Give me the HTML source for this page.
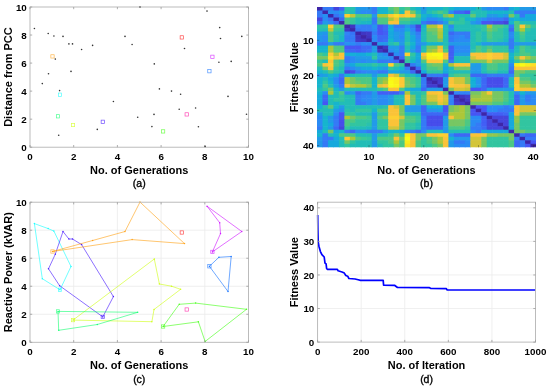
<!DOCTYPE html><html><head><meta charset="utf-8"><style>html,body{margin:0;padding:0;background:#fff;}svg{display:block;}</style></head><body>
<svg width="550" height="389" viewBox="0 0 550 389" font-family='"Liberation Sans", Arial, Helvetica, sans-serif'>
<rect width="550" height="389" fill="#fff"/>
<rect x="30" y="7" width="218.5" height="140.2" fill="none" stroke="#b4b4b4" stroke-width="0.9"/>
<line x1="30.00" y1="147.2" x2="30.00" y2="145.0" stroke="#9a9a9a" stroke-width="0.8"/>
<line x1="30.00" y1="7" x2="30.00" y2="9.2" stroke="#9a9a9a" stroke-width="0.8"/>
<line x1="73.70" y1="147.2" x2="73.70" y2="145.0" stroke="#9a9a9a" stroke-width="0.8"/>
<line x1="73.70" y1="7" x2="73.70" y2="9.2" stroke="#9a9a9a" stroke-width="0.8"/>
<line x1="117.40" y1="147.2" x2="117.40" y2="145.0" stroke="#9a9a9a" stroke-width="0.8"/>
<line x1="117.40" y1="7" x2="117.40" y2="9.2" stroke="#9a9a9a" stroke-width="0.8"/>
<line x1="161.10" y1="147.2" x2="161.10" y2="145.0" stroke="#9a9a9a" stroke-width="0.8"/>
<line x1="161.10" y1="7" x2="161.10" y2="9.2" stroke="#9a9a9a" stroke-width="0.8"/>
<line x1="204.80" y1="147.2" x2="204.80" y2="145.0" stroke="#9a9a9a" stroke-width="0.8"/>
<line x1="204.80" y1="7" x2="204.80" y2="9.2" stroke="#9a9a9a" stroke-width="0.8"/>
<line x1="248.50" y1="147.2" x2="248.50" y2="145.0" stroke="#9a9a9a" stroke-width="0.8"/>
<line x1="248.50" y1="7" x2="248.50" y2="9.2" stroke="#9a9a9a" stroke-width="0.8"/>
<line x1="30" y1="147.20" x2="32.2" y2="147.20" stroke="#9a9a9a" stroke-width="0.8"/>
<line x1="248.5" y1="147.20" x2="246.3" y2="147.20" stroke="#9a9a9a" stroke-width="0.8"/>
<line x1="30" y1="119.16" x2="32.2" y2="119.16" stroke="#9a9a9a" stroke-width="0.8"/>
<line x1="248.5" y1="119.16" x2="246.3" y2="119.16" stroke="#9a9a9a" stroke-width="0.8"/>
<line x1="30" y1="91.12" x2="32.2" y2="91.12" stroke="#9a9a9a" stroke-width="0.8"/>
<line x1="248.5" y1="91.12" x2="246.3" y2="91.12" stroke="#9a9a9a" stroke-width="0.8"/>
<line x1="30" y1="63.08" x2="32.2" y2="63.08" stroke="#9a9a9a" stroke-width="0.8"/>
<line x1="248.5" y1="63.08" x2="246.3" y2="63.08" stroke="#9a9a9a" stroke-width="0.8"/>
<line x1="30" y1="35.04" x2="32.2" y2="35.04" stroke="#9a9a9a" stroke-width="0.8"/>
<line x1="248.5" y1="35.04" x2="246.3" y2="35.04" stroke="#9a9a9a" stroke-width="0.8"/>
<line x1="30" y1="7.00" x2="32.2" y2="7.00" stroke="#9a9a9a" stroke-width="0.8"/>
<line x1="248.5" y1="7.00" x2="246.3" y2="7.00" stroke="#9a9a9a" stroke-width="0.8"/>
<text transform="translate(30.00 160.20) scale(1.0 1.0)" font-size="9.8" font-weight="bold" text-anchor="middle" fill="#000">0</text>
<text transform="translate(73.70 160.20) scale(1.0 1.0)" font-size="9.8" font-weight="bold" text-anchor="middle" fill="#000">2</text>
<text transform="translate(117.40 160.20) scale(1.0 1.0)" font-size="9.8" font-weight="bold" text-anchor="middle" fill="#000">4</text>
<text transform="translate(161.10 160.20) scale(1.0 1.0)" font-size="9.8" font-weight="bold" text-anchor="middle" fill="#000">6</text>
<text transform="translate(204.80 160.20) scale(1.0 1.0)" font-size="9.8" font-weight="bold" text-anchor="middle" fill="#000">8</text>
<text transform="translate(248.50 160.20) scale(1.0 1.0)" font-size="9.8" font-weight="bold" text-anchor="middle" fill="#000">10</text>
<text transform="translate(26.80 150.80) scale(1.0 1.0)" font-size="9.8" font-weight="bold" text-anchor="end" fill="#000">0</text>
<text transform="translate(26.80 122.76) scale(1.0 1.0)" font-size="9.8" font-weight="bold" text-anchor="end" fill="#000">2</text>
<text transform="translate(26.80 94.72) scale(1.0 1.0)" font-size="9.8" font-weight="bold" text-anchor="end" fill="#000">4</text>
<text transform="translate(26.80 66.68) scale(1.0 1.0)" font-size="9.8" font-weight="bold" text-anchor="end" fill="#000">6</text>
<text transform="translate(26.80 38.64) scale(1.0 1.0)" font-size="9.8" font-weight="bold" text-anchor="end" fill="#000">8</text>
<text transform="translate(26.80 10.60) scale(1.0 1.0)" font-size="9.8" font-weight="bold" text-anchor="end" fill="#000">10</text>
<circle cx="34.4" cy="28.5" r="0.8" fill="#333"/>
<circle cx="48.2" cy="33.5" r="0.8" fill="#333"/>
<circle cx="53.9" cy="36.0" r="0.8" fill="#333"/>
<circle cx="63.0" cy="36.4" r="0.8" fill="#333"/>
<circle cx="68.9" cy="43.9" r="0.8" fill="#333"/>
<circle cx="72.5" cy="43.9" r="0.8" fill="#333"/>
<circle cx="81.6" cy="49.5" r="0.8" fill="#333"/>
<circle cx="92.6" cy="45.4" r="0.8" fill="#333"/>
<circle cx="55.3" cy="59.1" r="0.8" fill="#333"/>
<circle cx="71.0" cy="71.4" r="0.8" fill="#333"/>
<circle cx="48.5" cy="73.7" r="0.8" fill="#333"/>
<circle cx="42.3" cy="83.6" r="0.8" fill="#333"/>
<circle cx="59.6" cy="90.6" r="0.8" fill="#333"/>
<circle cx="97.3" cy="129.4" r="0.8" fill="#333"/>
<circle cx="58.7" cy="135.2" r="0.8" fill="#333"/>
<circle cx="140.0" cy="7.0" r="0.8" fill="#333"/>
<circle cx="125.0" cy="36.4" r="0.8" fill="#333"/>
<circle cx="132.1" cy="44.5" r="0.8" fill="#333"/>
<circle cx="154.3" cy="63.9" r="0.8" fill="#333"/>
<circle cx="159.4" cy="88.9" r="0.8" fill="#333"/>
<circle cx="113.4" cy="101.5" r="0.8" fill="#333"/>
<circle cx="137.7" cy="117.2" r="0.8" fill="#333"/>
<circle cx="154.0" cy="114.4" r="0.8" fill="#333"/>
<circle cx="151.9" cy="126.6" r="0.8" fill="#333"/>
<circle cx="207.0" cy="11.1" r="0.8" fill="#333"/>
<circle cx="219.7" cy="27.6" r="0.8" fill="#333"/>
<circle cx="220.5" cy="38.5" r="0.8" fill="#333"/>
<circle cx="241.8" cy="36.4" r="0.8" fill="#333"/>
<circle cx="184.5" cy="48.5" r="0.8" fill="#333"/>
<circle cx="218.9" cy="62.2" r="0.8" fill="#333"/>
<circle cx="231.2" cy="61.4" r="0.8" fill="#333"/>
<circle cx="171.5" cy="91.1" r="0.8" fill="#333"/>
<circle cx="180.6" cy="94.2" r="0.8" fill="#333"/>
<circle cx="228.0" cy="96.4" r="0.8" fill="#333"/>
<circle cx="179.2" cy="109.2" r="0.8" fill="#333"/>
<circle cx="195.6" cy="108.0" r="0.8" fill="#333"/>
<circle cx="246.5" cy="114.2" r="0.8" fill="#333"/>
<circle cx="198.4" cy="126.7" r="0.8" fill="#333"/>
<circle cx="205.1" cy="146.4" r="0.8" fill="#333"/>
<rect x="50.85" y="54.75" width="3.3" height="3.3" fill="none" stroke="#ff9900" stroke-width="0.7" stroke-opacity="0.7"/>
<rect x="58.35" y="93.05" width="3.3" height="3.3" fill="none" stroke="#00ffff" stroke-width="0.7" stroke-opacity="0.7"/>
<rect x="56.35" y="114.65" width="3.3" height="3.3" fill="none" stroke="#00ff66" stroke-width="0.7" stroke-opacity="0.7"/>
<rect x="71.35" y="123.35" width="3.3" height="3.3" fill="none" stroke="#ccff00" stroke-width="0.7" stroke-opacity="0.7"/>
<rect x="101.15" y="120.15" width="3.3" height="3.3" fill="none" stroke="#3300ff" stroke-width="0.7" stroke-opacity="0.7"/>
<rect x="161.45" y="129.75" width="3.3" height="3.3" fill="none" stroke="#33ff00" stroke-width="0.7" stroke-opacity="0.7"/>
<rect x="180.15" y="35.75" width="3.3" height="3.3" fill="none" stroke="#ff0000" stroke-width="0.7" stroke-opacity="0.7"/>
<rect x="210.75" y="55.15" width="3.3" height="3.3" fill="none" stroke="#cc00ff" stroke-width="0.7" stroke-opacity="0.7"/>
<rect x="207.75" y="69.55" width="3.3" height="3.3" fill="none" stroke="#0066ff" stroke-width="0.7" stroke-opacity="0.7"/>
<rect x="185.05" y="112.75" width="3.3" height="3.3" fill="none" stroke="#ff0099" stroke-width="0.7" stroke-opacity="0.7"/>
<text transform="translate(139.25 174.00) scale(1.0 1.05)" font-size="11.0" font-weight="bold" text-anchor="middle" fill="#000">No. of Generations</text>
<text transform="translate(139.25 186.80) scale(1.0 1.0)" font-size="10.5" font-weight="normal" text-anchor="middle" fill="#000" stroke="#000" stroke-width="0.35">(a)</text>
<text transform="translate(11.60 77.10) rotate(-90) scale(1.0 1.05)" font-size="11.0" font-weight="bold" text-anchor="middle" fill="#000">Distance from PCC</text>
<line x1="73.70" y1="202.2" x2="73.70" y2="342.3" stroke="#ebebeb" stroke-width="0.8"/>
<line x1="117.40" y1="202.2" x2="117.40" y2="342.3" stroke="#ebebeb" stroke-width="0.8"/>
<line x1="161.10" y1="202.2" x2="161.10" y2="342.3" stroke="#ebebeb" stroke-width="0.8"/>
<line x1="204.80" y1="202.2" x2="204.80" y2="342.3" stroke="#ebebeb" stroke-width="0.8"/>
<line x1="30" y1="314.28" x2="248.5" y2="314.28" stroke="#ebebeb" stroke-width="0.8"/>
<line x1="30" y1="286.26" x2="248.5" y2="286.26" stroke="#ebebeb" stroke-width="0.8"/>
<line x1="30" y1="258.24" x2="248.5" y2="258.24" stroke="#ebebeb" stroke-width="0.8"/>
<line x1="30" y1="230.22" x2="248.5" y2="230.22" stroke="#ebebeb" stroke-width="0.8"/>
<polygon points="34.4,223.6 48.2,228.6 53.9,231.1 71.0,266.5 60.0,289.8 42.3,278.7" fill="none" stroke="#00ffff" stroke-width="0.75" stroke-opacity="0.75" stroke-linejoin="round"/>
<circle cx="34.4" cy="223.6" r="0.75" fill="#00ffff" fill-opacity="0.8"/>
<circle cx="48.2" cy="228.6" r="0.75" fill="#00ffff" fill-opacity="0.8"/>
<circle cx="53.9" cy="231.1" r="0.75" fill="#00ffff" fill-opacity="0.8"/>
<circle cx="71.0" cy="266.5" r="0.75" fill="#00ffff" fill-opacity="0.8"/>
<circle cx="60.0" cy="289.8" r="0.75" fill="#00ffff" fill-opacity="0.8"/>
<circle cx="42.3" cy="278.7" r="0.75" fill="#00ffff" fill-opacity="0.8"/>
<polygon points="63.0,231.5 55.3,254.2 48.5,268.8 59.6,285.7 102.8,316.9 113.4,296.6 81.6,244.6 72.5,239.0 68.9,239.0" fill="none" stroke="#3300ff" stroke-width="0.75" stroke-opacity="0.75" stroke-linejoin="round"/>
<circle cx="63.0" cy="231.5" r="0.75" fill="#3300ff" fill-opacity="0.8"/>
<circle cx="55.3" cy="254.2" r="0.75" fill="#3300ff" fill-opacity="0.8"/>
<circle cx="48.5" cy="268.8" r="0.75" fill="#3300ff" fill-opacity="0.8"/>
<circle cx="59.6" cy="285.7" r="0.75" fill="#3300ff" fill-opacity="0.8"/>
<circle cx="102.8" cy="316.9" r="0.75" fill="#3300ff" fill-opacity="0.8"/>
<circle cx="113.4" cy="296.6" r="0.75" fill="#3300ff" fill-opacity="0.8"/>
<circle cx="81.6" cy="244.6" r="0.75" fill="#3300ff" fill-opacity="0.8"/>
<circle cx="72.5" cy="239.0" r="0.75" fill="#3300ff" fill-opacity="0.8"/>
<circle cx="68.9" cy="239.0" r="0.75" fill="#3300ff" fill-opacity="0.8"/>
<polygon points="52.5,251.5 92.6,240.5 125.0,231.5 140.0,202.1 184.5,243.6 132.1,239.6" fill="none" stroke="#ff9900" stroke-width="0.75" stroke-opacity="0.75" stroke-linejoin="round"/>
<circle cx="52.5" cy="251.5" r="0.75" fill="#ff9900" fill-opacity="0.8"/>
<circle cx="92.6" cy="240.5" r="0.75" fill="#ff9900" fill-opacity="0.8"/>
<circle cx="125.0" cy="231.5" r="0.75" fill="#ff9900" fill-opacity="0.8"/>
<circle cx="140.0" cy="202.1" r="0.75" fill="#ff9900" fill-opacity="0.8"/>
<circle cx="184.5" cy="243.6" r="0.75" fill="#ff9900" fill-opacity="0.8"/>
<circle cx="132.1" cy="239.6" r="0.75" fill="#ff9900" fill-opacity="0.8"/>
<polygon points="73.0,320.1 151.9,321.7 154.0,309.5 180.6,289.3 171.5,286.2 159.4,284.0 154.3,259.0" fill="none" stroke="#ccff00" stroke-width="0.75" stroke-opacity="0.75" stroke-linejoin="round"/>
<circle cx="73.0" cy="320.1" r="0.75" fill="#ccff00" fill-opacity="0.8"/>
<circle cx="151.9" cy="321.7" r="0.75" fill="#ccff00" fill-opacity="0.8"/>
<circle cx="154.0" cy="309.5" r="0.75" fill="#ccff00" fill-opacity="0.8"/>
<circle cx="180.6" cy="289.3" r="0.75" fill="#ccff00" fill-opacity="0.8"/>
<circle cx="171.5" cy="286.2" r="0.75" fill="#ccff00" fill-opacity="0.8"/>
<circle cx="159.4" cy="284.0" r="0.75" fill="#ccff00" fill-opacity="0.8"/>
<circle cx="154.3" cy="259.0" r="0.75" fill="#ccff00" fill-opacity="0.8"/>
<polygon points="58.0,311.4 137.7,312.3 97.3,324.5 58.7,330.3" fill="none" stroke="#00ff66" stroke-width="0.75" stroke-opacity="0.75" stroke-linejoin="round"/>
<circle cx="58.0" cy="311.4" r="0.75" fill="#00ff66" fill-opacity="0.8"/>
<circle cx="137.7" cy="312.3" r="0.75" fill="#00ff66" fill-opacity="0.8"/>
<circle cx="97.3" cy="324.5" r="0.75" fill="#00ff66" fill-opacity="0.8"/>
<circle cx="58.7" cy="330.3" r="0.75" fill="#00ff66" fill-opacity="0.8"/>
<polygon points="163.1,326.5 179.2,304.3 195.6,303.1 246.5,309.3 205.1,341.5 198.4,321.8" fill="none" stroke="#33ff00" stroke-width="0.75" stroke-opacity="0.75" stroke-linejoin="round"/>
<circle cx="163.1" cy="326.5" r="0.75" fill="#33ff00" fill-opacity="0.8"/>
<circle cx="179.2" cy="304.3" r="0.75" fill="#33ff00" fill-opacity="0.8"/>
<circle cx="195.6" cy="303.1" r="0.75" fill="#33ff00" fill-opacity="0.8"/>
<circle cx="246.5" cy="309.3" r="0.75" fill="#33ff00" fill-opacity="0.8"/>
<circle cx="205.1" cy="341.5" r="0.75" fill="#33ff00" fill-opacity="0.8"/>
<circle cx="198.4" cy="321.8" r="0.75" fill="#33ff00" fill-opacity="0.8"/>
<polygon points="207.0,206.2 219.7,222.7 220.5,233.6 212.4,251.9 241.8,231.5" fill="none" stroke="#cc00ff" stroke-width="0.75" stroke-opacity="0.75" stroke-linejoin="round"/>
<circle cx="207.0" cy="206.2" r="0.75" fill="#cc00ff" fill-opacity="0.8"/>
<circle cx="219.7" cy="222.7" r="0.75" fill="#cc00ff" fill-opacity="0.8"/>
<circle cx="220.5" cy="233.6" r="0.75" fill="#cc00ff" fill-opacity="0.8"/>
<circle cx="212.4" cy="251.9" r="0.75" fill="#cc00ff" fill-opacity="0.8"/>
<circle cx="241.8" cy="231.5" r="0.75" fill="#cc00ff" fill-opacity="0.8"/>
<polygon points="209.4,266.3 218.9,257.3 231.2,256.5 228.0,291.5" fill="none" stroke="#0066ff" stroke-width="0.75" stroke-opacity="0.75" stroke-linejoin="round"/>
<circle cx="209.4" cy="266.3" r="0.75" fill="#0066ff" fill-opacity="0.8"/>
<circle cx="218.9" cy="257.3" r="0.75" fill="#0066ff" fill-opacity="0.8"/>
<circle cx="231.2" cy="256.5" r="0.75" fill="#0066ff" fill-opacity="0.8"/>
<circle cx="228.0" cy="291.5" r="0.75" fill="#0066ff" fill-opacity="0.8"/>
<rect x="50.85" y="249.85" width="3.3" height="3.3" fill="none" stroke="#ff9900" stroke-width="0.7" stroke-opacity="0.7"/>
<rect x="58.35" y="288.15" width="3.3" height="3.3" fill="none" stroke="#00ffff" stroke-width="0.7" stroke-opacity="0.7"/>
<rect x="56.35" y="309.75" width="3.3" height="3.3" fill="none" stroke="#00ff66" stroke-width="0.7" stroke-opacity="0.7"/>
<rect x="71.35" y="318.45" width="3.3" height="3.3" fill="none" stroke="#ccff00" stroke-width="0.7" stroke-opacity="0.7"/>
<rect x="101.15" y="315.25" width="3.3" height="3.3" fill="none" stroke="#3300ff" stroke-width="0.7" stroke-opacity="0.7"/>
<rect x="161.45" y="324.85" width="3.3" height="3.3" fill="none" stroke="#33ff00" stroke-width="0.7" stroke-opacity="0.7"/>
<rect x="180.15" y="230.85" width="3.3" height="3.3" fill="none" stroke="#ff0000" stroke-width="0.7" stroke-opacity="0.7"/>
<rect x="210.75" y="250.25" width="3.3" height="3.3" fill="none" stroke="#cc00ff" stroke-width="0.7" stroke-opacity="0.7"/>
<rect x="207.75" y="264.65" width="3.3" height="3.3" fill="none" stroke="#0066ff" stroke-width="0.7" stroke-opacity="0.7"/>
<rect x="185.05" y="307.85" width="3.3" height="3.3" fill="none" stroke="#ff0099" stroke-width="0.7" stroke-opacity="0.7"/>
<rect x="30" y="202.2" width="218.5" height="140.10000000000002" fill="none" stroke="#b4b4b4" stroke-width="0.9"/>
<line x1="30.00" y1="342.3" x2="30.00" y2="340.1" stroke="#9a9a9a" stroke-width="0.8"/>
<line x1="30.00" y1="202.2" x2="30.00" y2="204.39999999999998" stroke="#9a9a9a" stroke-width="0.8"/>
<line x1="73.70" y1="342.3" x2="73.70" y2="340.1" stroke="#9a9a9a" stroke-width="0.8"/>
<line x1="73.70" y1="202.2" x2="73.70" y2="204.39999999999998" stroke="#9a9a9a" stroke-width="0.8"/>
<line x1="117.40" y1="342.3" x2="117.40" y2="340.1" stroke="#9a9a9a" stroke-width="0.8"/>
<line x1="117.40" y1="202.2" x2="117.40" y2="204.39999999999998" stroke="#9a9a9a" stroke-width="0.8"/>
<line x1="161.10" y1="342.3" x2="161.10" y2="340.1" stroke="#9a9a9a" stroke-width="0.8"/>
<line x1="161.10" y1="202.2" x2="161.10" y2="204.39999999999998" stroke="#9a9a9a" stroke-width="0.8"/>
<line x1="204.80" y1="342.3" x2="204.80" y2="340.1" stroke="#9a9a9a" stroke-width="0.8"/>
<line x1="204.80" y1="202.2" x2="204.80" y2="204.39999999999998" stroke="#9a9a9a" stroke-width="0.8"/>
<line x1="248.50" y1="342.3" x2="248.50" y2="340.1" stroke="#9a9a9a" stroke-width="0.8"/>
<line x1="248.50" y1="202.2" x2="248.50" y2="204.39999999999998" stroke="#9a9a9a" stroke-width="0.8"/>
<line x1="30" y1="342.30" x2="32.2" y2="342.30" stroke="#9a9a9a" stroke-width="0.8"/>
<line x1="248.5" y1="342.30" x2="246.3" y2="342.30" stroke="#9a9a9a" stroke-width="0.8"/>
<line x1="30" y1="314.28" x2="32.2" y2="314.28" stroke="#9a9a9a" stroke-width="0.8"/>
<line x1="248.5" y1="314.28" x2="246.3" y2="314.28" stroke="#9a9a9a" stroke-width="0.8"/>
<line x1="30" y1="286.26" x2="32.2" y2="286.26" stroke="#9a9a9a" stroke-width="0.8"/>
<line x1="248.5" y1="286.26" x2="246.3" y2="286.26" stroke="#9a9a9a" stroke-width="0.8"/>
<line x1="30" y1="258.24" x2="32.2" y2="258.24" stroke="#9a9a9a" stroke-width="0.8"/>
<line x1="248.5" y1="258.24" x2="246.3" y2="258.24" stroke="#9a9a9a" stroke-width="0.8"/>
<line x1="30" y1="230.22" x2="32.2" y2="230.22" stroke="#9a9a9a" stroke-width="0.8"/>
<line x1="248.5" y1="230.22" x2="246.3" y2="230.22" stroke="#9a9a9a" stroke-width="0.8"/>
<line x1="30" y1="202.20" x2="32.2" y2="202.20" stroke="#9a9a9a" stroke-width="0.8"/>
<line x1="248.5" y1="202.20" x2="246.3" y2="202.20" stroke="#9a9a9a" stroke-width="0.8"/>
<text transform="translate(30.00 355.30) scale(1.0 1.0)" font-size="9.8" font-weight="bold" text-anchor="middle" fill="#000">0</text>
<text transform="translate(73.70 355.30) scale(1.0 1.0)" font-size="9.8" font-weight="bold" text-anchor="middle" fill="#000">2</text>
<text transform="translate(117.40 355.30) scale(1.0 1.0)" font-size="9.8" font-weight="bold" text-anchor="middle" fill="#000">4</text>
<text transform="translate(161.10 355.30) scale(1.0 1.0)" font-size="9.8" font-weight="bold" text-anchor="middle" fill="#000">6</text>
<text transform="translate(204.80 355.30) scale(1.0 1.0)" font-size="9.8" font-weight="bold" text-anchor="middle" fill="#000">8</text>
<text transform="translate(248.50 355.30) scale(1.0 1.0)" font-size="9.8" font-weight="bold" text-anchor="middle" fill="#000">10</text>
<text transform="translate(26.80 345.90) scale(1.0 1.0)" font-size="9.8" font-weight="bold" text-anchor="end" fill="#000">0</text>
<text transform="translate(26.80 317.88) scale(1.0 1.0)" font-size="9.8" font-weight="bold" text-anchor="end" fill="#000">2</text>
<text transform="translate(26.80 289.86) scale(1.0 1.0)" font-size="9.8" font-weight="bold" text-anchor="end" fill="#000">4</text>
<text transform="translate(26.80 261.84) scale(1.0 1.0)" font-size="9.8" font-weight="bold" text-anchor="end" fill="#000">6</text>
<text transform="translate(26.80 233.82) scale(1.0 1.0)" font-size="9.8" font-weight="bold" text-anchor="end" fill="#000">8</text>
<text transform="translate(26.80 205.80) scale(1.0 1.0)" font-size="9.8" font-weight="bold" text-anchor="end" fill="#000">10</text>
<text transform="translate(139.25 369.10) scale(1.0 1.05)" font-size="11.0" font-weight="bold" text-anchor="middle" fill="#000">No. of Generations</text>
<text transform="translate(139.25 382.50) scale(1.0 1.0)" font-size="10.5" font-weight="normal" text-anchor="middle" fill="#000" stroke="#000" stroke-width="0.35">(c)</text>
<text transform="translate(11.60 272.25) rotate(-90) scale(1.0 1.05)" font-size="11.0" font-weight="bold" text-anchor="middle" fill="#000">Reactive Power (kVAR)</text>
<defs><filter id="hb" x="-2%" y="-2%" width="104%" height="104%"><feGaussianBlur stdDeviation="0.35"/></filter></defs>
<g filter="url(#hb)">
<rect x="317.00" y="7.00" width="6.07" height="4.11" fill="#3e26a8"/>
<rect x="322.48" y="7.00" width="6.07" height="4.11" fill="#347af6"/>
<rect x="327.95" y="7.00" width="6.07" height="4.11" fill="#347af6"/>
<rect x="333.43" y="7.00" width="6.07" height="4.11" fill="#4545dd"/>
<rect x="338.90" y="7.00" width="6.07" height="4.11" fill="#3f63f5"/>
<rect x="344.38" y="7.00" width="6.07" height="4.11" fill="#2ec3a6"/>
<rect x="349.85" y="7.00" width="6.07" height="4.11" fill="#28bfb1"/>
<rect x="355.32" y="7.00" width="6.07" height="4.11" fill="#1f9ee5"/>
<rect x="360.80" y="7.00" width="6.07" height="4.11" fill="#2396eb"/>
<rect x="366.27" y="7.00" width="6.07" height="4.11" fill="#2396eb"/>
<rect x="371.75" y="7.00" width="6.07" height="4.11" fill="#347af6"/>
<rect x="377.23" y="7.00" width="6.07" height="4.11" fill="#17b5cd"/>
<rect x="382.70" y="7.00" width="6.07" height="4.11" fill="#17b5cd"/>
<rect x="388.18" y="7.00" width="6.07" height="4.11" fill="#4ec884"/>
<rect x="393.65" y="7.00" width="6.07" height="4.11" fill="#77c763"/>
<rect x="399.12" y="7.00" width="6.07" height="4.11" fill="#31c5a0"/>
<rect x="404.60" y="7.00" width="6.07" height="4.11" fill="#4ec884"/>
<rect x="410.07" y="7.00" width="6.07" height="4.11" fill="#24bdb7"/>
<rect x="415.55" y="7.00" width="6.07" height="4.11" fill="#17b5cd"/>
<rect x="421.02" y="7.00" width="6.07" height="4.11" fill="#219ae8"/>
<rect x="426.50" y="7.00" width="6.07" height="4.11" fill="#17b5cd"/>
<rect x="431.98" y="7.00" width="6.07" height="4.11" fill="#17b5cd"/>
<rect x="437.45" y="7.00" width="6.07" height="4.11" fill="#17b5cd"/>
<rect x="442.93" y="7.00" width="6.07" height="4.11" fill="#24bdb7"/>
<rect x="448.40" y="7.00" width="6.07" height="4.11" fill="#17b5cd"/>
<rect x="453.88" y="7.00" width="6.07" height="4.11" fill="#17a9dd"/>
<rect x="459.35" y="7.00" width="6.07" height="4.11" fill="#17a9dd"/>
<rect x="464.82" y="7.00" width="6.07" height="4.11" fill="#17a9dd"/>
<rect x="470.30" y="7.00" width="6.07" height="4.11" fill="#12b0d7"/>
<rect x="475.77" y="7.00" width="6.07" height="4.11" fill="#24bdb7"/>
<rect x="481.25" y="7.00" width="6.07" height="4.11" fill="#219ae8"/>
<rect x="486.73" y="7.00" width="6.07" height="4.11" fill="#2b8bf4"/>
<rect x="492.20" y="7.00" width="6.07" height="4.11" fill="#2b8bf4"/>
<rect x="497.67" y="7.00" width="6.07" height="4.11" fill="#2b8bf4"/>
<rect x="503.15" y="7.00" width="6.07" height="4.11" fill="#347af6"/>
<rect x="508.62" y="7.00" width="6.07" height="4.11" fill="#17a9dd"/>
<rect x="514.10" y="7.00" width="6.07" height="4.11" fill="#17b5cd"/>
<rect x="519.58" y="7.00" width="6.07" height="4.11" fill="#219ae8"/>
<rect x="525.05" y="7.00" width="6.07" height="4.11" fill="#219ae8"/>
<rect x="530.52" y="7.00" width="5.47" height="4.11" fill="#219ae8"/>
<rect x="317.00" y="10.51" width="6.07" height="4.11" fill="#347af6"/>
<rect x="322.48" y="10.51" width="6.07" height="4.11" fill="#3e26a8"/>
<rect x="327.95" y="10.51" width="6.07" height="4.11" fill="#288ff1"/>
<rect x="333.43" y="10.51" width="6.07" height="4.11" fill="#2b8bf4"/>
<rect x="338.90" y="10.51" width="6.07" height="4.11" fill="#219ae8"/>
<rect x="344.38" y="10.51" width="6.07" height="4.11" fill="#31c5a0"/>
<rect x="349.85" y="10.51" width="6.07" height="4.11" fill="#24bdb7"/>
<rect x="355.32" y="10.51" width="6.07" height="4.11" fill="#2396eb"/>
<rect x="360.80" y="10.51" width="6.07" height="4.11" fill="#2b8bf4"/>
<rect x="366.27" y="10.51" width="6.07" height="4.11" fill="#2b8bf4"/>
<rect x="371.75" y="10.51" width="6.07" height="4.11" fill="#347af6"/>
<rect x="377.23" y="10.51" width="6.07" height="4.11" fill="#17b5cd"/>
<rect x="382.70" y="10.51" width="6.07" height="4.11" fill="#17b5cd"/>
<rect x="388.18" y="10.51" width="6.07" height="4.11" fill="#31c5a0"/>
<rect x="393.65" y="10.51" width="6.07" height="4.11" fill="#77c763"/>
<rect x="399.12" y="10.51" width="6.07" height="4.11" fill="#24bdb7"/>
<rect x="404.60" y="10.51" width="6.07" height="4.11" fill="#fac338"/>
<rect x="410.07" y="10.51" width="6.07" height="4.11" fill="#77c763"/>
<rect x="415.55" y="10.51" width="6.07" height="4.11" fill="#24bdb7"/>
<rect x="421.02" y="10.51" width="6.07" height="4.11" fill="#1ca1e2"/>
<rect x="426.50" y="10.51" width="6.07" height="4.11" fill="#24bdb7"/>
<rect x="431.98" y="10.51" width="6.07" height="4.11" fill="#31c5a0"/>
<rect x="437.45" y="10.51" width="6.07" height="4.11" fill="#4ec884"/>
<rect x="442.93" y="10.51" width="6.07" height="4.11" fill="#31c5a0"/>
<rect x="448.40" y="10.51" width="6.07" height="4.11" fill="#2b8bf4"/>
<rect x="453.88" y="10.51" width="6.07" height="4.11" fill="#3d67f5"/>
<rect x="459.35" y="10.51" width="6.07" height="4.11" fill="#3d67f5"/>
<rect x="464.82" y="10.51" width="6.07" height="4.11" fill="#4655f4"/>
<rect x="470.30" y="10.51" width="6.07" height="4.11" fill="#2bc1ac"/>
<rect x="475.77" y="10.51" width="6.07" height="4.11" fill="#24bdb7"/>
<rect x="481.25" y="10.51" width="6.07" height="4.11" fill="#24bdb7"/>
<rect x="486.73" y="10.51" width="6.07" height="4.11" fill="#17b5cd"/>
<rect x="492.20" y="10.51" width="6.07" height="4.11" fill="#17b5cd"/>
<rect x="497.67" y="10.51" width="6.07" height="4.11" fill="#17b5cd"/>
<rect x="503.15" y="10.51" width="6.07" height="4.11" fill="#17b5cd"/>
<rect x="508.62" y="10.51" width="6.07" height="4.11" fill="#24bdb7"/>
<rect x="514.10" y="10.51" width="6.07" height="4.11" fill="#347af6"/>
<rect x="519.58" y="10.51" width="6.07" height="4.11" fill="#347af6"/>
<rect x="525.05" y="10.51" width="6.07" height="4.11" fill="#347af6"/>
<rect x="530.52" y="10.51" width="5.47" height="4.11" fill="#347af6"/>
<rect x="317.00" y="14.02" width="6.07" height="4.11" fill="#347af6"/>
<rect x="322.48" y="14.02" width="6.07" height="4.11" fill="#288ff1"/>
<rect x="327.95" y="14.02" width="6.07" height="4.11" fill="#3e26a8"/>
<rect x="333.43" y="14.02" width="6.07" height="4.11" fill="#3675f6"/>
<rect x="338.90" y="14.02" width="6.07" height="4.11" fill="#2b8bf4"/>
<rect x="344.38" y="14.02" width="6.07" height="4.11" fill="#fdcf31"/>
<rect x="349.85" y="14.02" width="6.07" height="4.11" fill="#c0c639"/>
<rect x="355.32" y="14.02" width="6.07" height="4.11" fill="#4ec884"/>
<rect x="360.80" y="14.02" width="6.07" height="4.11" fill="#4ec884"/>
<rect x="366.27" y="14.02" width="6.07" height="4.11" fill="#4ec884"/>
<rect x="371.75" y="14.02" width="6.07" height="4.11" fill="#219ae8"/>
<rect x="377.23" y="14.02" width="6.07" height="4.11" fill="#adc739"/>
<rect x="382.70" y="14.02" width="6.07" height="4.11" fill="#adc739"/>
<rect x="388.18" y="14.02" width="6.07" height="4.11" fill="#fec835"/>
<rect x="393.65" y="14.02" width="6.07" height="4.11" fill="#fcde27"/>
<rect x="399.12" y="14.02" width="6.07" height="4.11" fill="#fac338"/>
<rect x="404.60" y="14.02" width="6.07" height="4.11" fill="#fdcf31"/>
<rect x="410.07" y="14.02" width="6.07" height="4.11" fill="#fac338"/>
<rect x="415.55" y="14.02" width="6.07" height="4.11" fill="#4ec884"/>
<rect x="421.02" y="14.02" width="6.07" height="4.11" fill="#17b5cd"/>
<rect x="426.50" y="14.02" width="6.07" height="4.11" fill="#17a9dd"/>
<rect x="431.98" y="14.02" width="6.07" height="4.11" fill="#17b5cd"/>
<rect x="437.45" y="14.02" width="6.07" height="4.11" fill="#24bdb7"/>
<rect x="442.93" y="14.02" width="6.07" height="4.11" fill="#77c763"/>
<rect x="448.40" y="14.02" width="6.07" height="4.11" fill="#adc739"/>
<rect x="453.88" y="14.02" width="6.07" height="4.11" fill="#24bdb7"/>
<rect x="459.35" y="14.02" width="6.07" height="4.11" fill="#24bdb7"/>
<rect x="464.82" y="14.02" width="6.07" height="4.11" fill="#24bdb7"/>
<rect x="470.30" y="14.02" width="6.07" height="4.11" fill="#63c874"/>
<rect x="475.77" y="14.02" width="6.07" height="4.11" fill="#24bdb7"/>
<rect x="481.25" y="14.02" width="6.07" height="4.11" fill="#24bdb7"/>
<rect x="486.73" y="14.02" width="6.07" height="4.11" fill="#219ae8"/>
<rect x="492.20" y="14.02" width="6.07" height="4.11" fill="#219ae8"/>
<rect x="497.67" y="14.02" width="6.07" height="4.11" fill="#17a9dd"/>
<rect x="503.15" y="14.02" width="6.07" height="4.11" fill="#219ae8"/>
<rect x="508.62" y="14.02" width="6.07" height="4.11" fill="#77c763"/>
<rect x="514.10" y="14.02" width="6.07" height="4.11" fill="#24bdb7"/>
<rect x="519.58" y="14.02" width="6.07" height="4.11" fill="#347af6"/>
<rect x="525.05" y="14.02" width="6.07" height="4.11" fill="#17a9dd"/>
<rect x="530.52" y="14.02" width="5.47" height="4.11" fill="#17a9dd"/>
<rect x="317.00" y="17.52" width="6.07" height="4.11" fill="#4545dd"/>
<rect x="322.48" y="17.52" width="6.07" height="4.11" fill="#2b8bf4"/>
<rect x="327.95" y="17.52" width="6.07" height="4.11" fill="#3675f6"/>
<rect x="333.43" y="17.52" width="6.07" height="4.11" fill="#3e26a8"/>
<rect x="338.90" y="17.52" width="6.07" height="4.11" fill="#3d67f5"/>
<rect x="344.38" y="17.52" width="6.07" height="4.11" fill="#4ec884"/>
<rect x="349.85" y="17.52" width="6.07" height="4.11" fill="#35c79b"/>
<rect x="355.32" y="17.52" width="6.07" height="4.11" fill="#24bdb7"/>
<rect x="360.80" y="17.52" width="6.07" height="4.11" fill="#2bc1ac"/>
<rect x="366.27" y="17.52" width="6.07" height="4.11" fill="#28bfb1"/>
<rect x="371.75" y="17.52" width="6.07" height="4.11" fill="#347af6"/>
<rect x="377.23" y="17.52" width="6.07" height="4.11" fill="#4ec884"/>
<rect x="382.70" y="17.52" width="6.07" height="4.11" fill="#4ec884"/>
<rect x="388.18" y="17.52" width="6.07" height="4.11" fill="#adc739"/>
<rect x="393.65" y="17.52" width="6.07" height="4.11" fill="#e7c438"/>
<rect x="399.12" y="17.52" width="6.07" height="4.11" fill="#4ec884"/>
<rect x="404.60" y="17.52" width="6.07" height="4.11" fill="#4ec884"/>
<rect x="410.07" y="17.52" width="6.07" height="4.11" fill="#31c5a0"/>
<rect x="415.55" y="17.52" width="6.07" height="4.11" fill="#2bc1ac"/>
<rect x="421.02" y="17.52" width="6.07" height="4.11" fill="#17a9dd"/>
<rect x="426.50" y="17.52" width="6.07" height="4.11" fill="#2b8bf4"/>
<rect x="431.98" y="17.52" width="6.07" height="4.11" fill="#2b8bf4"/>
<rect x="437.45" y="17.52" width="6.07" height="4.11" fill="#219ae8"/>
<rect x="442.93" y="17.52" width="6.07" height="4.11" fill="#17b5cd"/>
<rect x="448.40" y="17.52" width="6.07" height="4.11" fill="#24bdb7"/>
<rect x="453.88" y="17.52" width="6.07" height="4.11" fill="#24bdb7"/>
<rect x="459.35" y="17.52" width="6.07" height="4.11" fill="#31c5a0"/>
<rect x="464.82" y="17.52" width="6.07" height="4.11" fill="#17b5cd"/>
<rect x="470.30" y="17.52" width="6.07" height="4.11" fill="#17b5cd"/>
<rect x="475.77" y="17.52" width="6.07" height="4.11" fill="#219ae8"/>
<rect x="481.25" y="17.52" width="6.07" height="4.11" fill="#2b8bf4"/>
<rect x="486.73" y="17.52" width="6.07" height="4.11" fill="#347af6"/>
<rect x="492.20" y="17.52" width="6.07" height="4.11" fill="#347af6"/>
<rect x="497.67" y="17.52" width="6.07" height="4.11" fill="#347af6"/>
<rect x="503.15" y="17.52" width="6.07" height="4.11" fill="#3d67f5"/>
<rect x="508.62" y="17.52" width="6.07" height="4.11" fill="#17a9dd"/>
<rect x="514.10" y="17.52" width="6.07" height="4.11" fill="#17b5cd"/>
<rect x="519.58" y="17.52" width="6.07" height="4.11" fill="#17a9dd"/>
<rect x="525.05" y="17.52" width="6.07" height="4.11" fill="#17a9dd"/>
<rect x="530.52" y="17.52" width="5.47" height="4.11" fill="#17a9dd"/>
<rect x="317.00" y="21.03" width="6.07" height="4.11" fill="#3f63f5"/>
<rect x="322.48" y="21.03" width="6.07" height="4.11" fill="#219ae8"/>
<rect x="327.95" y="21.03" width="6.07" height="4.11" fill="#2b8bf4"/>
<rect x="333.43" y="21.03" width="6.07" height="4.11" fill="#3d67f5"/>
<rect x="338.90" y="21.03" width="6.07" height="4.11" fill="#3e26a8"/>
<rect x="344.38" y="21.03" width="6.07" height="4.11" fill="#4ec884"/>
<rect x="349.85" y="21.03" width="6.07" height="4.11" fill="#31c5a0"/>
<rect x="355.32" y="21.03" width="6.07" height="4.11" fill="#24bdb7"/>
<rect x="360.80" y="21.03" width="6.07" height="4.11" fill="#1eb9c2"/>
<rect x="366.27" y="21.03" width="6.07" height="4.11" fill="#1ab7c7"/>
<rect x="371.75" y="21.03" width="6.07" height="4.11" fill="#347af6"/>
<rect x="377.23" y="21.03" width="6.07" height="4.11" fill="#4ec884"/>
<rect x="382.70" y="21.03" width="6.07" height="4.11" fill="#4ec884"/>
<rect x="388.18" y="21.03" width="6.07" height="4.11" fill="#fac338"/>
<rect x="393.65" y="21.03" width="6.07" height="4.11" fill="#fac338"/>
<rect x="399.12" y="21.03" width="6.07" height="4.11" fill="#31c5a0"/>
<rect x="404.60" y="21.03" width="6.07" height="4.11" fill="#31c5a0"/>
<rect x="410.07" y="21.03" width="6.07" height="4.11" fill="#24bdb7"/>
<rect x="415.55" y="21.03" width="6.07" height="4.11" fill="#24bdb7"/>
<rect x="421.02" y="21.03" width="6.07" height="4.11" fill="#347af6"/>
<rect x="426.50" y="21.03" width="6.07" height="4.11" fill="#3d67f5"/>
<rect x="431.98" y="21.03" width="6.07" height="4.11" fill="#3d67f5"/>
<rect x="437.45" y="21.03" width="6.07" height="4.11" fill="#347af6"/>
<rect x="442.93" y="21.03" width="6.07" height="4.11" fill="#219ae8"/>
<rect x="448.40" y="21.03" width="6.07" height="4.11" fill="#4ec884"/>
<rect x="453.88" y="21.03" width="6.07" height="4.11" fill="#31c5a0"/>
<rect x="459.35" y="21.03" width="6.07" height="4.11" fill="#31c5a0"/>
<rect x="464.82" y="21.03" width="6.07" height="4.11" fill="#24bdb7"/>
<rect x="470.30" y="21.03" width="6.07" height="4.11" fill="#219ae8"/>
<rect x="475.77" y="21.03" width="6.07" height="4.11" fill="#2b8bf4"/>
<rect x="481.25" y="21.03" width="6.07" height="4.11" fill="#4655f4"/>
<rect x="486.73" y="21.03" width="6.07" height="4.11" fill="#4655f4"/>
<rect x="492.20" y="21.03" width="6.07" height="4.11" fill="#464deb"/>
<rect x="497.67" y="21.03" width="6.07" height="4.11" fill="#464deb"/>
<rect x="503.15" y="21.03" width="6.07" height="4.11" fill="#4545dd"/>
<rect x="508.62" y="21.03" width="6.07" height="4.11" fill="#17b5cd"/>
<rect x="514.10" y="21.03" width="6.07" height="4.11" fill="#4ec884"/>
<rect x="519.58" y="21.03" width="6.07" height="4.11" fill="#24bdb7"/>
<rect x="525.05" y="21.03" width="6.07" height="4.11" fill="#24bdb7"/>
<rect x="530.52" y="21.03" width="5.47" height="4.11" fill="#24bdb7"/>
<rect x="317.00" y="24.54" width="6.07" height="4.11" fill="#2ec3a6"/>
<rect x="322.48" y="24.54" width="6.07" height="4.11" fill="#31c5a0"/>
<rect x="327.95" y="24.54" width="6.07" height="4.11" fill="#fdcf31"/>
<rect x="333.43" y="24.54" width="6.07" height="4.11" fill="#4ec884"/>
<rect x="338.90" y="24.54" width="6.07" height="4.11" fill="#4ec884"/>
<rect x="344.38" y="24.54" width="6.07" height="4.11" fill="#3e26a8"/>
<rect x="349.85" y="24.54" width="6.07" height="4.11" fill="#4136c3"/>
<rect x="355.32" y="24.54" width="6.07" height="4.11" fill="#3083f7"/>
<rect x="360.80" y="24.54" width="6.07" height="4.11" fill="#347af6"/>
<rect x="366.27" y="24.54" width="6.07" height="4.11" fill="#347af6"/>
<rect x="371.75" y="24.54" width="6.07" height="4.11" fill="#2693ee"/>
<rect x="377.23" y="24.54" width="6.07" height="4.11" fill="#4655f4"/>
<rect x="382.70" y="24.54" width="6.07" height="4.11" fill="#3d67f5"/>
<rect x="388.18" y="24.54" width="6.07" height="4.11" fill="#17a9dd"/>
<rect x="393.65" y="24.54" width="6.07" height="4.11" fill="#347af6"/>
<rect x="399.12" y="24.54" width="6.07" height="4.11" fill="#347af6"/>
<rect x="404.60" y="24.54" width="6.07" height="4.11" fill="#219ae8"/>
<rect x="410.07" y="24.54" width="6.07" height="4.11" fill="#347af6"/>
<rect x="415.55" y="24.54" width="6.07" height="4.11" fill="#4545dd"/>
<rect x="421.02" y="24.54" width="6.07" height="4.11" fill="#17b5cd"/>
<rect x="426.50" y="24.54" width="6.07" height="4.11" fill="#adc739"/>
<rect x="431.98" y="24.54" width="6.07" height="4.11" fill="#adc739"/>
<rect x="437.45" y="24.54" width="6.07" height="4.11" fill="#fac338"/>
<rect x="442.93" y="24.54" width="6.07" height="4.11" fill="#24bdb7"/>
<rect x="448.40" y="24.54" width="6.07" height="4.11" fill="#2b8bf4"/>
<rect x="453.88" y="24.54" width="6.07" height="4.11" fill="#24bdb7"/>
<rect x="459.35" y="24.54" width="6.07" height="4.11" fill="#24bdb7"/>
<rect x="464.82" y="24.54" width="6.07" height="4.11" fill="#24bdb7"/>
<rect x="470.30" y="24.54" width="6.07" height="4.11" fill="#24bdb7"/>
<rect x="475.77" y="24.54" width="6.07" height="4.11" fill="#2bc1ac"/>
<rect x="481.25" y="24.54" width="6.07" height="4.11" fill="#31c5a0"/>
<rect x="486.73" y="24.54" width="6.07" height="4.11" fill="#adc739"/>
<rect x="492.20" y="24.54" width="6.07" height="4.11" fill="#4ec884"/>
<rect x="497.67" y="24.54" width="6.07" height="4.11" fill="#4ec884"/>
<rect x="503.15" y="24.54" width="6.07" height="4.11" fill="#31c5a0"/>
<rect x="508.62" y="24.54" width="6.07" height="4.11" fill="#347af6"/>
<rect x="514.10" y="24.54" width="6.07" height="4.11" fill="#4ec884"/>
<rect x="519.58" y="24.54" width="6.07" height="4.11" fill="#fec835"/>
<rect x="525.05" y="24.54" width="6.07" height="4.11" fill="#77c763"/>
<rect x="530.52" y="24.54" width="5.47" height="4.11" fill="#31c5a0"/>
<rect x="317.00" y="28.05" width="6.07" height="4.11" fill="#28bfb1"/>
<rect x="322.48" y="28.05" width="6.07" height="4.11" fill="#24bdb7"/>
<rect x="327.95" y="28.05" width="6.07" height="4.11" fill="#c0c639"/>
<rect x="333.43" y="28.05" width="6.07" height="4.11" fill="#35c79b"/>
<rect x="338.90" y="28.05" width="6.07" height="4.11" fill="#31c5a0"/>
<rect x="344.38" y="28.05" width="6.07" height="4.11" fill="#4136c3"/>
<rect x="349.85" y="28.05" width="6.07" height="4.11" fill="#3e26a8"/>
<rect x="355.32" y="28.05" width="6.07" height="4.11" fill="#3675f6"/>
<rect x="360.80" y="28.05" width="6.07" height="4.11" fill="#347af6"/>
<rect x="366.27" y="28.05" width="6.07" height="4.11" fill="#347af6"/>
<rect x="371.75" y="28.05" width="6.07" height="4.11" fill="#2b8bf4"/>
<rect x="377.23" y="28.05" width="6.07" height="4.11" fill="#4655f4"/>
<rect x="382.70" y="28.05" width="6.07" height="4.11" fill="#3d67f5"/>
<rect x="388.18" y="28.05" width="6.07" height="4.11" fill="#12b0d7"/>
<rect x="393.65" y="28.05" width="6.07" height="4.11" fill="#2b8bf4"/>
<rect x="399.12" y="28.05" width="6.07" height="4.11" fill="#2b8bf4"/>
<rect x="404.60" y="28.05" width="6.07" height="4.11" fill="#17a9dd"/>
<rect x="410.07" y="28.05" width="6.07" height="4.11" fill="#2b8bf4"/>
<rect x="415.55" y="28.05" width="6.07" height="4.11" fill="#464deb"/>
<rect x="421.02" y="28.05" width="6.07" height="4.11" fill="#1eb9c2"/>
<rect x="426.50" y="28.05" width="6.07" height="4.11" fill="#77c763"/>
<rect x="431.98" y="28.05" width="6.07" height="4.11" fill="#77c763"/>
<rect x="437.45" y="28.05" width="6.07" height="4.11" fill="#c0c639"/>
<rect x="442.93" y="28.05" width="6.07" height="4.11" fill="#24bdb7"/>
<rect x="448.40" y="28.05" width="6.07" height="4.11" fill="#219ae8"/>
<rect x="453.88" y="28.05" width="6.07" height="4.11" fill="#24bdb7"/>
<rect x="459.35" y="28.05" width="6.07" height="4.11" fill="#24bdb7"/>
<rect x="464.82" y="28.05" width="6.07" height="4.11" fill="#24bdb7"/>
<rect x="470.30" y="28.05" width="6.07" height="4.11" fill="#24bdb7"/>
<rect x="475.77" y="28.05" width="6.07" height="4.11" fill="#24bdb7"/>
<rect x="481.25" y="28.05" width="6.07" height="4.11" fill="#31c5a0"/>
<rect x="486.73" y="28.05" width="6.07" height="4.11" fill="#77c763"/>
<rect x="492.20" y="28.05" width="6.07" height="4.11" fill="#4ec884"/>
<rect x="497.67" y="28.05" width="6.07" height="4.11" fill="#31c5a0"/>
<rect x="503.15" y="28.05" width="6.07" height="4.11" fill="#24bdb7"/>
<rect x="508.62" y="28.05" width="6.07" height="4.11" fill="#3d67f5"/>
<rect x="514.10" y="28.05" width="6.07" height="4.11" fill="#4ec884"/>
<rect x="519.58" y="28.05" width="6.07" height="4.11" fill="#adc739"/>
<rect x="525.05" y="28.05" width="6.07" height="4.11" fill="#31c5a0"/>
<rect x="530.52" y="28.05" width="5.47" height="4.11" fill="#24bdb7"/>
<rect x="317.00" y="31.55" width="6.07" height="4.11" fill="#1f9ee5"/>
<rect x="322.48" y="31.55" width="6.07" height="4.11" fill="#2396eb"/>
<rect x="327.95" y="31.55" width="6.07" height="4.11" fill="#4ec884"/>
<rect x="333.43" y="31.55" width="6.07" height="4.11" fill="#24bdb7"/>
<rect x="338.90" y="31.55" width="6.07" height="4.11" fill="#24bdb7"/>
<rect x="344.38" y="31.55" width="6.07" height="4.11" fill="#3083f7"/>
<rect x="349.85" y="31.55" width="6.07" height="4.11" fill="#3675f6"/>
<rect x="355.32" y="31.55" width="6.07" height="4.11" fill="#3e26a8"/>
<rect x="360.80" y="31.55" width="6.07" height="4.11" fill="#4136c3"/>
<rect x="366.27" y="31.55" width="6.07" height="4.11" fill="#4239c8"/>
<rect x="371.75" y="31.55" width="6.07" height="4.11" fill="#347af6"/>
<rect x="377.23" y="31.55" width="6.07" height="4.11" fill="#4655f4"/>
<rect x="382.70" y="31.55" width="6.07" height="4.11" fill="#425ef5"/>
<rect x="388.18" y="31.55" width="6.07" height="4.11" fill="#17a9dd"/>
<rect x="393.65" y="31.55" width="6.07" height="4.11" fill="#219ae8"/>
<rect x="399.12" y="31.55" width="6.07" height="4.11" fill="#2693ee"/>
<rect x="404.60" y="31.55" width="6.07" height="4.11" fill="#24bdb7"/>
<rect x="410.07" y="31.55" width="6.07" height="4.11" fill="#219ae8"/>
<rect x="415.55" y="31.55" width="6.07" height="4.11" fill="#347af6"/>
<rect x="421.02" y="31.55" width="6.07" height="4.11" fill="#24bdb7"/>
<rect x="426.50" y="31.55" width="6.07" height="4.11" fill="#4ec884"/>
<rect x="431.98" y="31.55" width="6.07" height="4.11" fill="#63c874"/>
<rect x="437.45" y="31.55" width="6.07" height="4.11" fill="#adc739"/>
<rect x="442.93" y="31.55" width="6.07" height="4.11" fill="#24bdb7"/>
<rect x="448.40" y="31.55" width="6.07" height="4.11" fill="#3d67f5"/>
<rect x="453.88" y="31.55" width="6.07" height="4.11" fill="#347af6"/>
<rect x="459.35" y="31.55" width="6.07" height="4.11" fill="#347af6"/>
<rect x="464.82" y="31.55" width="6.07" height="4.11" fill="#347af6"/>
<rect x="470.30" y="31.55" width="6.07" height="4.11" fill="#24bdb7"/>
<rect x="475.77" y="31.55" width="6.07" height="4.11" fill="#31c5a0"/>
<rect x="481.25" y="31.55" width="6.07" height="4.11" fill="#24bdb7"/>
<rect x="486.73" y="31.55" width="6.07" height="4.11" fill="#4ec884"/>
<rect x="492.20" y="31.55" width="6.07" height="4.11" fill="#31c5a0"/>
<rect x="497.67" y="31.55" width="6.07" height="4.11" fill="#31c5a0"/>
<rect x="503.15" y="31.55" width="6.07" height="4.11" fill="#24bdb7"/>
<rect x="508.62" y="31.55" width="6.07" height="4.11" fill="#2b8bf4"/>
<rect x="514.10" y="31.55" width="6.07" height="4.11" fill="#24bdb7"/>
<rect x="519.58" y="31.55" width="6.07" height="4.11" fill="#4ec884"/>
<rect x="525.05" y="31.55" width="6.07" height="4.11" fill="#24bdb7"/>
<rect x="530.52" y="31.55" width="5.47" height="4.11" fill="#24bdb7"/>
<rect x="317.00" y="35.06" width="6.07" height="4.11" fill="#2396eb"/>
<rect x="322.48" y="35.06" width="6.07" height="4.11" fill="#2b8bf4"/>
<rect x="327.95" y="35.06" width="6.07" height="4.11" fill="#4ec884"/>
<rect x="333.43" y="35.06" width="6.07" height="4.11" fill="#2bc1ac"/>
<rect x="338.90" y="35.06" width="6.07" height="4.11" fill="#1eb9c2"/>
<rect x="344.38" y="35.06" width="6.07" height="4.11" fill="#347af6"/>
<rect x="349.85" y="35.06" width="6.07" height="4.11" fill="#347af6"/>
<rect x="355.32" y="35.06" width="6.07" height="4.11" fill="#4136c3"/>
<rect x="360.80" y="35.06" width="6.07" height="4.11" fill="#3e26a8"/>
<rect x="366.27" y="35.06" width="6.07" height="4.11" fill="#4136c3"/>
<rect x="371.75" y="35.06" width="6.07" height="4.11" fill="#2b8bf4"/>
<rect x="377.23" y="35.06" width="6.07" height="4.11" fill="#3d67f5"/>
<rect x="382.70" y="35.06" width="6.07" height="4.11" fill="#3d67f5"/>
<rect x="388.18" y="35.06" width="6.07" height="4.11" fill="#17a9dd"/>
<rect x="393.65" y="35.06" width="6.07" height="4.11" fill="#219ae8"/>
<rect x="399.12" y="35.06" width="6.07" height="4.11" fill="#2b8bf4"/>
<rect x="404.60" y="35.06" width="6.07" height="4.11" fill="#24bdb7"/>
<rect x="410.07" y="35.06" width="6.07" height="4.11" fill="#17a9dd"/>
<rect x="415.55" y="35.06" width="6.07" height="4.11" fill="#3083f7"/>
<rect x="421.02" y="35.06" width="6.07" height="4.11" fill="#24bdb7"/>
<rect x="426.50" y="35.06" width="6.07" height="4.11" fill="#4ec884"/>
<rect x="431.98" y="35.06" width="6.07" height="4.11" fill="#4ec884"/>
<rect x="437.45" y="35.06" width="6.07" height="4.11" fill="#adc739"/>
<rect x="442.93" y="35.06" width="6.07" height="4.11" fill="#24bdb7"/>
<rect x="448.40" y="35.06" width="6.07" height="4.11" fill="#347af6"/>
<rect x="453.88" y="35.06" width="6.07" height="4.11" fill="#3083f7"/>
<rect x="459.35" y="35.06" width="6.07" height="4.11" fill="#2b8bf4"/>
<rect x="464.82" y="35.06" width="6.07" height="4.11" fill="#347af6"/>
<rect x="470.30" y="35.06" width="6.07" height="4.11" fill="#24bdb7"/>
<rect x="475.77" y="35.06" width="6.07" height="4.11" fill="#31c5a0"/>
<rect x="481.25" y="35.06" width="6.07" height="4.11" fill="#24bdb7"/>
<rect x="486.73" y="35.06" width="6.07" height="4.11" fill="#4ec884"/>
<rect x="492.20" y="35.06" width="6.07" height="4.11" fill="#31c5a0"/>
<rect x="497.67" y="35.06" width="6.07" height="4.11" fill="#31c5a0"/>
<rect x="503.15" y="35.06" width="6.07" height="4.11" fill="#24bdb7"/>
<rect x="508.62" y="35.06" width="6.07" height="4.11" fill="#2b8bf4"/>
<rect x="514.10" y="35.06" width="6.07" height="4.11" fill="#24bdb7"/>
<rect x="519.58" y="35.06" width="6.07" height="4.11" fill="#3ac895"/>
<rect x="525.05" y="35.06" width="6.07" height="4.11" fill="#24bdb7"/>
<rect x="530.52" y="35.06" width="5.47" height="4.11" fill="#24bdb7"/>
<rect x="317.00" y="38.57" width="6.07" height="4.11" fill="#2396eb"/>
<rect x="322.48" y="38.57" width="6.07" height="4.11" fill="#2b8bf4"/>
<rect x="327.95" y="38.57" width="6.07" height="4.11" fill="#4ec884"/>
<rect x="333.43" y="38.57" width="6.07" height="4.11" fill="#28bfb1"/>
<rect x="338.90" y="38.57" width="6.07" height="4.11" fill="#1ab7c7"/>
<rect x="344.38" y="38.57" width="6.07" height="4.11" fill="#347af6"/>
<rect x="349.85" y="38.57" width="6.07" height="4.11" fill="#347af6"/>
<rect x="355.32" y="38.57" width="6.07" height="4.11" fill="#4239c8"/>
<rect x="360.80" y="38.57" width="6.07" height="4.11" fill="#4136c3"/>
<rect x="366.27" y="38.57" width="6.07" height="4.11" fill="#3e26a8"/>
<rect x="371.75" y="38.57" width="6.07" height="4.11" fill="#2b8bf4"/>
<rect x="377.23" y="38.57" width="6.07" height="4.11" fill="#3d67f5"/>
<rect x="382.70" y="38.57" width="6.07" height="4.11" fill="#3971f6"/>
<rect x="388.18" y="38.57" width="6.07" height="4.11" fill="#17b5cd"/>
<rect x="393.65" y="38.57" width="6.07" height="4.11" fill="#219ae8"/>
<rect x="399.12" y="38.57" width="6.07" height="4.11" fill="#2693ee"/>
<rect x="404.60" y="38.57" width="6.07" height="4.11" fill="#24bdb7"/>
<rect x="410.07" y="38.57" width="6.07" height="4.11" fill="#17a9dd"/>
<rect x="415.55" y="38.57" width="6.07" height="4.11" fill="#2b8bf4"/>
<rect x="421.02" y="38.57" width="6.07" height="4.11" fill="#24bdb7"/>
<rect x="426.50" y="38.57" width="6.07" height="4.11" fill="#4ec884"/>
<rect x="431.98" y="38.57" width="6.07" height="4.11" fill="#4ec884"/>
<rect x="437.45" y="38.57" width="6.07" height="4.11" fill="#77c763"/>
<rect x="442.93" y="38.57" width="6.07" height="4.11" fill="#24bdb7"/>
<rect x="448.40" y="38.57" width="6.07" height="4.11" fill="#347af6"/>
<rect x="453.88" y="38.57" width="6.07" height="4.11" fill="#2b8bf4"/>
<rect x="459.35" y="38.57" width="6.07" height="4.11" fill="#2b8bf4"/>
<rect x="464.82" y="38.57" width="6.07" height="4.11" fill="#2b8bf4"/>
<rect x="470.30" y="38.57" width="6.07" height="4.11" fill="#24bdb7"/>
<rect x="475.77" y="38.57" width="6.07" height="4.11" fill="#31c5a0"/>
<rect x="481.25" y="38.57" width="6.07" height="4.11" fill="#24bdb7"/>
<rect x="486.73" y="38.57" width="6.07" height="4.11" fill="#3ac895"/>
<rect x="492.20" y="38.57" width="6.07" height="4.11" fill="#31c5a0"/>
<rect x="497.67" y="38.57" width="6.07" height="4.11" fill="#2bc1ac"/>
<rect x="503.15" y="38.57" width="6.07" height="4.11" fill="#1eb9c2"/>
<rect x="508.62" y="38.57" width="6.07" height="4.11" fill="#347af6"/>
<rect x="514.10" y="38.57" width="6.07" height="4.11" fill="#24bdb7"/>
<rect x="519.58" y="38.57" width="6.07" height="4.11" fill="#31c5a0"/>
<rect x="525.05" y="38.57" width="6.07" height="4.11" fill="#24bdb7"/>
<rect x="530.52" y="38.57" width="5.47" height="4.11" fill="#24bdb7"/>
<rect x="317.00" y="42.08" width="6.07" height="4.11" fill="#347af6"/>
<rect x="322.48" y="42.08" width="6.07" height="4.11" fill="#347af6"/>
<rect x="327.95" y="42.08" width="6.07" height="4.11" fill="#219ae8"/>
<rect x="333.43" y="42.08" width="6.07" height="4.11" fill="#347af6"/>
<rect x="338.90" y="42.08" width="6.07" height="4.11" fill="#347af6"/>
<rect x="344.38" y="42.08" width="6.07" height="4.11" fill="#2693ee"/>
<rect x="349.85" y="42.08" width="6.07" height="4.11" fill="#2b8bf4"/>
<rect x="355.32" y="42.08" width="6.07" height="4.11" fill="#347af6"/>
<rect x="360.80" y="42.08" width="6.07" height="4.11" fill="#2b8bf4"/>
<rect x="366.27" y="42.08" width="6.07" height="4.11" fill="#2b8bf4"/>
<rect x="371.75" y="42.08" width="6.07" height="4.11" fill="#3e26a8"/>
<rect x="377.23" y="42.08" width="6.07" height="4.11" fill="#219ae8"/>
<rect x="382.70" y="42.08" width="6.07" height="4.11" fill="#219ae8"/>
<rect x="388.18" y="42.08" width="6.07" height="4.11" fill="#24bdb7"/>
<rect x="393.65" y="42.08" width="6.07" height="4.11" fill="#31c5a0"/>
<rect x="399.12" y="42.08" width="6.07" height="4.11" fill="#219ae8"/>
<rect x="404.60" y="42.08" width="6.07" height="4.11" fill="#31c5a0"/>
<rect x="410.07" y="42.08" width="6.07" height="4.11" fill="#17b5cd"/>
<rect x="415.55" y="42.08" width="6.07" height="4.11" fill="#2b8bf4"/>
<rect x="421.02" y="42.08" width="6.07" height="4.11" fill="#219ae8"/>
<rect x="426.50" y="42.08" width="6.07" height="4.11" fill="#17b5cd"/>
<rect x="431.98" y="42.08" width="6.07" height="4.11" fill="#17b5cd"/>
<rect x="437.45" y="42.08" width="6.07" height="4.11" fill="#17b5cd"/>
<rect x="442.93" y="42.08" width="6.07" height="4.11" fill="#24bdb7"/>
<rect x="448.40" y="42.08" width="6.07" height="4.11" fill="#219ae8"/>
<rect x="453.88" y="42.08" width="6.07" height="4.11" fill="#219ae8"/>
<rect x="459.35" y="42.08" width="6.07" height="4.11" fill="#219ae8"/>
<rect x="464.82" y="42.08" width="6.07" height="4.11" fill="#219ae8"/>
<rect x="470.30" y="42.08" width="6.07" height="4.11" fill="#24bdb7"/>
<rect x="475.77" y="42.08" width="6.07" height="4.11" fill="#17b5cd"/>
<rect x="481.25" y="42.08" width="6.07" height="4.11" fill="#219ae8"/>
<rect x="486.73" y="42.08" width="6.07" height="4.11" fill="#219ae8"/>
<rect x="492.20" y="42.08" width="6.07" height="4.11" fill="#219ae8"/>
<rect x="497.67" y="42.08" width="6.07" height="4.11" fill="#219ae8"/>
<rect x="503.15" y="42.08" width="6.07" height="4.11" fill="#219ae8"/>
<rect x="508.62" y="42.08" width="6.07" height="4.11" fill="#347af6"/>
<rect x="514.10" y="42.08" width="6.07" height="4.11" fill="#219ae8"/>
<rect x="519.58" y="42.08" width="6.07" height="4.11" fill="#219ae8"/>
<rect x="525.05" y="42.08" width="6.07" height="4.11" fill="#219ae8"/>
<rect x="530.52" y="42.08" width="5.47" height="4.11" fill="#219ae8"/>
<rect x="317.00" y="45.58" width="6.07" height="4.11" fill="#17b5cd"/>
<rect x="322.48" y="45.58" width="6.07" height="4.11" fill="#17b5cd"/>
<rect x="327.95" y="45.58" width="6.07" height="4.11" fill="#adc739"/>
<rect x="333.43" y="45.58" width="6.07" height="4.11" fill="#4ec884"/>
<rect x="338.90" y="45.58" width="6.07" height="4.11" fill="#4ec884"/>
<rect x="344.38" y="45.58" width="6.07" height="4.11" fill="#4655f4"/>
<rect x="349.85" y="45.58" width="6.07" height="4.11" fill="#4655f4"/>
<rect x="355.32" y="45.58" width="6.07" height="4.11" fill="#4655f4"/>
<rect x="360.80" y="45.58" width="6.07" height="4.11" fill="#3d67f5"/>
<rect x="366.27" y="45.58" width="6.07" height="4.11" fill="#3d67f5"/>
<rect x="371.75" y="45.58" width="6.07" height="4.11" fill="#219ae8"/>
<rect x="377.23" y="45.58" width="6.07" height="4.11" fill="#3e26a8"/>
<rect x="382.70" y="45.58" width="6.07" height="4.11" fill="#4136c3"/>
<rect x="388.18" y="45.58" width="6.07" height="4.11" fill="#219ae8"/>
<rect x="393.65" y="45.58" width="6.07" height="4.11" fill="#219ae8"/>
<rect x="399.12" y="45.58" width="6.07" height="4.11" fill="#347af6"/>
<rect x="404.60" y="45.58" width="6.07" height="4.11" fill="#24bdb7"/>
<rect x="410.07" y="45.58" width="6.07" height="4.11" fill="#17a9dd"/>
<rect x="415.55" y="45.58" width="6.07" height="4.11" fill="#347af6"/>
<rect x="421.02" y="45.58" width="6.07" height="4.11" fill="#24bdb7"/>
<rect x="426.50" y="45.58" width="6.07" height="4.11" fill="#77c763"/>
<rect x="431.98" y="45.58" width="6.07" height="4.11" fill="#77c763"/>
<rect x="437.45" y="45.58" width="6.07" height="4.11" fill="#e7c438"/>
<rect x="442.93" y="45.58" width="6.07" height="4.11" fill="#31c5a0"/>
<rect x="448.40" y="45.58" width="6.07" height="4.11" fill="#425ef5"/>
<rect x="453.88" y="45.58" width="6.07" height="4.11" fill="#2b8bf4"/>
<rect x="459.35" y="45.58" width="6.07" height="4.11" fill="#2b8bf4"/>
<rect x="464.82" y="45.58" width="6.07" height="4.11" fill="#2b8bf4"/>
<rect x="470.30" y="45.58" width="6.07" height="4.11" fill="#24bdb7"/>
<rect x="475.77" y="45.58" width="6.07" height="4.11" fill="#4ec884"/>
<rect x="481.25" y="45.58" width="6.07" height="4.11" fill="#31c5a0"/>
<rect x="486.73" y="45.58" width="6.07" height="4.11" fill="#4ec884"/>
<rect x="492.20" y="45.58" width="6.07" height="4.11" fill="#31c5a0"/>
<rect x="497.67" y="45.58" width="6.07" height="4.11" fill="#31c5a0"/>
<rect x="503.15" y="45.58" width="6.07" height="4.11" fill="#31c5a0"/>
<rect x="508.62" y="45.58" width="6.07" height="4.11" fill="#347af6"/>
<rect x="514.10" y="45.58" width="6.07" height="4.11" fill="#24bdb7"/>
<rect x="519.58" y="45.58" width="6.07" height="4.11" fill="#4ec884"/>
<rect x="525.05" y="45.58" width="6.07" height="4.11" fill="#31c5a0"/>
<rect x="530.52" y="45.58" width="5.47" height="4.11" fill="#24bdb7"/>
<rect x="317.00" y="49.09" width="6.07" height="4.11" fill="#17b5cd"/>
<rect x="322.48" y="49.09" width="6.07" height="4.11" fill="#17b5cd"/>
<rect x="327.95" y="49.09" width="6.07" height="4.11" fill="#adc739"/>
<rect x="333.43" y="49.09" width="6.07" height="4.11" fill="#4ec884"/>
<rect x="338.90" y="49.09" width="6.07" height="4.11" fill="#4ec884"/>
<rect x="344.38" y="49.09" width="6.07" height="4.11" fill="#3d67f5"/>
<rect x="349.85" y="49.09" width="6.07" height="4.11" fill="#3d67f5"/>
<rect x="355.32" y="49.09" width="6.07" height="4.11" fill="#425ef5"/>
<rect x="360.80" y="49.09" width="6.07" height="4.11" fill="#3d67f5"/>
<rect x="366.27" y="49.09" width="6.07" height="4.11" fill="#3971f6"/>
<rect x="371.75" y="49.09" width="6.07" height="4.11" fill="#219ae8"/>
<rect x="377.23" y="49.09" width="6.07" height="4.11" fill="#4136c3"/>
<rect x="382.70" y="49.09" width="6.07" height="4.11" fill="#3e26a8"/>
<rect x="388.18" y="49.09" width="6.07" height="4.11" fill="#2b8bf4"/>
<rect x="393.65" y="49.09" width="6.07" height="4.11" fill="#219ae8"/>
<rect x="399.12" y="49.09" width="6.07" height="4.11" fill="#347af6"/>
<rect x="404.60" y="49.09" width="6.07" height="4.11" fill="#24bdb7"/>
<rect x="410.07" y="49.09" width="6.07" height="4.11" fill="#219ae8"/>
<rect x="415.55" y="49.09" width="6.07" height="4.11" fill="#347af6"/>
<rect x="421.02" y="49.09" width="6.07" height="4.11" fill="#24bdb7"/>
<rect x="426.50" y="49.09" width="6.07" height="4.11" fill="#92c74d"/>
<rect x="431.98" y="49.09" width="6.07" height="4.11" fill="#adc739"/>
<rect x="437.45" y="49.09" width="6.07" height="4.11" fill="#fac338"/>
<rect x="442.93" y="49.09" width="6.07" height="4.11" fill="#4ec884"/>
<rect x="448.40" y="49.09" width="6.07" height="4.11" fill="#425ef5"/>
<rect x="453.88" y="49.09" width="6.07" height="4.11" fill="#2b8bf4"/>
<rect x="459.35" y="49.09" width="6.07" height="4.11" fill="#2b8bf4"/>
<rect x="464.82" y="49.09" width="6.07" height="4.11" fill="#2b8bf4"/>
<rect x="470.30" y="49.09" width="6.07" height="4.11" fill="#2bc1ac"/>
<rect x="475.77" y="49.09" width="6.07" height="4.11" fill="#4ec884"/>
<rect x="481.25" y="49.09" width="6.07" height="4.11" fill="#31c5a0"/>
<rect x="486.73" y="49.09" width="6.07" height="4.11" fill="#77c763"/>
<rect x="492.20" y="49.09" width="6.07" height="4.11" fill="#31c5a0"/>
<rect x="497.67" y="49.09" width="6.07" height="4.11" fill="#31c5a0"/>
<rect x="503.15" y="49.09" width="6.07" height="4.11" fill="#31c5a0"/>
<rect x="508.62" y="49.09" width="6.07" height="4.11" fill="#219ae8"/>
<rect x="514.10" y="49.09" width="6.07" height="4.11" fill="#24bdb7"/>
<rect x="519.58" y="49.09" width="6.07" height="4.11" fill="#4ec884"/>
<rect x="525.05" y="49.09" width="6.07" height="4.11" fill="#31c5a0"/>
<rect x="530.52" y="49.09" width="5.47" height="4.11" fill="#31c5a0"/>
<rect x="317.00" y="52.60" width="6.07" height="4.11" fill="#4ec884"/>
<rect x="322.48" y="52.60" width="6.07" height="4.11" fill="#31c5a0"/>
<rect x="327.95" y="52.60" width="6.07" height="4.11" fill="#fec835"/>
<rect x="333.43" y="52.60" width="6.07" height="4.11" fill="#adc739"/>
<rect x="338.90" y="52.60" width="6.07" height="4.11" fill="#fac338"/>
<rect x="344.38" y="52.60" width="6.07" height="4.11" fill="#17a9dd"/>
<rect x="349.85" y="52.60" width="6.07" height="4.11" fill="#12b0d7"/>
<rect x="355.32" y="52.60" width="6.07" height="4.11" fill="#17a9dd"/>
<rect x="360.80" y="52.60" width="6.07" height="4.11" fill="#17a9dd"/>
<rect x="366.27" y="52.60" width="6.07" height="4.11" fill="#17b5cd"/>
<rect x="371.75" y="52.60" width="6.07" height="4.11" fill="#24bdb7"/>
<rect x="377.23" y="52.60" width="6.07" height="4.11" fill="#219ae8"/>
<rect x="382.70" y="52.60" width="6.07" height="4.11" fill="#2b8bf4"/>
<rect x="388.18" y="52.60" width="6.07" height="4.11" fill="#3e26a8"/>
<rect x="393.65" y="52.60" width="6.07" height="4.11" fill="#2b8bf4"/>
<rect x="399.12" y="52.60" width="6.07" height="4.11" fill="#347af6"/>
<rect x="404.60" y="52.60" width="6.07" height="4.11" fill="#fdcf31"/>
<rect x="410.07" y="52.60" width="6.07" height="4.11" fill="#31c5a0"/>
<rect x="415.55" y="52.60" width="6.07" height="4.11" fill="#17a9dd"/>
<rect x="421.02" y="52.60" width="6.07" height="4.11" fill="#fac338"/>
<rect x="426.50" y="52.60" width="6.07" height="4.11" fill="#faf419"/>
<rect x="431.98" y="52.60" width="6.07" height="4.11" fill="#f9fb15"/>
<rect x="437.45" y="52.60" width="6.07" height="4.11" fill="#f9fb15"/>
<rect x="442.93" y="52.60" width="6.07" height="4.11" fill="#fac338"/>
<rect x="448.40" y="52.60" width="6.07" height="4.11" fill="#425ef5"/>
<rect x="453.88" y="52.60" width="6.07" height="4.11" fill="#219ae8"/>
<rect x="459.35" y="52.60" width="6.07" height="4.11" fill="#219ae8"/>
<rect x="464.82" y="52.60" width="6.07" height="4.11" fill="#219ae8"/>
<rect x="470.30" y="52.60" width="6.07" height="4.11" fill="#fac338"/>
<rect x="475.77" y="52.60" width="6.07" height="4.11" fill="#fac338"/>
<rect x="481.25" y="52.60" width="6.07" height="4.11" fill="#fac338"/>
<rect x="486.73" y="52.60" width="6.07" height="4.11" fill="#fdcf31"/>
<rect x="492.20" y="52.60" width="6.07" height="4.11" fill="#fac338"/>
<rect x="497.67" y="52.60" width="6.07" height="4.11" fill="#fac338"/>
<rect x="503.15" y="52.60" width="6.07" height="4.11" fill="#d3c538"/>
<rect x="508.62" y="52.60" width="6.07" height="4.11" fill="#17b5cd"/>
<rect x="514.10" y="52.60" width="6.07" height="4.11" fill="#31c5a0"/>
<rect x="519.58" y="52.60" width="6.07" height="4.11" fill="#4ec884"/>
<rect x="525.05" y="52.60" width="6.07" height="4.11" fill="#4ec884"/>
<rect x="530.52" y="52.60" width="5.47" height="4.11" fill="#31c5a0"/>
<rect x="317.00" y="56.11" width="6.07" height="4.11" fill="#77c763"/>
<rect x="322.48" y="56.11" width="6.07" height="4.11" fill="#77c763"/>
<rect x="327.95" y="56.11" width="6.07" height="4.11" fill="#fcde27"/>
<rect x="333.43" y="56.11" width="6.07" height="4.11" fill="#e7c438"/>
<rect x="338.90" y="56.11" width="6.07" height="4.11" fill="#fac338"/>
<rect x="344.38" y="56.11" width="6.07" height="4.11" fill="#347af6"/>
<rect x="349.85" y="56.11" width="6.07" height="4.11" fill="#2b8bf4"/>
<rect x="355.32" y="56.11" width="6.07" height="4.11" fill="#219ae8"/>
<rect x="360.80" y="56.11" width="6.07" height="4.11" fill="#219ae8"/>
<rect x="366.27" y="56.11" width="6.07" height="4.11" fill="#219ae8"/>
<rect x="371.75" y="56.11" width="6.07" height="4.11" fill="#31c5a0"/>
<rect x="377.23" y="56.11" width="6.07" height="4.11" fill="#219ae8"/>
<rect x="382.70" y="56.11" width="6.07" height="4.11" fill="#219ae8"/>
<rect x="388.18" y="56.11" width="6.07" height="4.11" fill="#2b8bf4"/>
<rect x="393.65" y="56.11" width="6.07" height="4.11" fill="#3e26a8"/>
<rect x="399.12" y="56.11" width="6.07" height="4.11" fill="#3d67f5"/>
<rect x="404.60" y="56.11" width="6.07" height="4.11" fill="#4ec884"/>
<rect x="410.07" y="56.11" width="6.07" height="4.11" fill="#24bdb7"/>
<rect x="415.55" y="56.11" width="6.07" height="4.11" fill="#17a9dd"/>
<rect x="421.02" y="56.11" width="6.07" height="4.11" fill="#d3c538"/>
<rect x="426.50" y="56.11" width="6.07" height="4.11" fill="#faec1e"/>
<rect x="431.98" y="56.11" width="6.07" height="4.11" fill="#faec1e"/>
<rect x="437.45" y="56.11" width="6.07" height="4.11" fill="#faf419"/>
<rect x="442.93" y="56.11" width="6.07" height="4.11" fill="#fac338"/>
<rect x="448.40" y="56.11" width="6.07" height="4.11" fill="#425ef5"/>
<rect x="453.88" y="56.11" width="6.07" height="4.11" fill="#24bdb7"/>
<rect x="459.35" y="56.11" width="6.07" height="4.11" fill="#24bdb7"/>
<rect x="464.82" y="56.11" width="6.07" height="4.11" fill="#24bdb7"/>
<rect x="470.30" y="56.11" width="6.07" height="4.11" fill="#d3c538"/>
<rect x="475.77" y="56.11" width="6.07" height="4.11" fill="#fac338"/>
<rect x="481.25" y="56.11" width="6.07" height="4.11" fill="#fac338"/>
<rect x="486.73" y="56.11" width="6.07" height="4.11" fill="#fdcf31"/>
<rect x="492.20" y="56.11" width="6.07" height="4.11" fill="#fac338"/>
<rect x="497.67" y="56.11" width="6.07" height="4.11" fill="#fac338"/>
<rect x="503.15" y="56.11" width="6.07" height="4.11" fill="#d3c538"/>
<rect x="508.62" y="56.11" width="6.07" height="4.11" fill="#17b5cd"/>
<rect x="514.10" y="56.11" width="6.07" height="4.11" fill="#77c763"/>
<rect x="519.58" y="56.11" width="6.07" height="4.11" fill="#fac338"/>
<rect x="525.05" y="56.11" width="6.07" height="4.11" fill="#adc739"/>
<rect x="530.52" y="56.11" width="5.47" height="4.11" fill="#77c763"/>
<rect x="317.00" y="59.61" width="6.07" height="4.11" fill="#31c5a0"/>
<rect x="322.48" y="59.61" width="6.07" height="4.11" fill="#24bdb7"/>
<rect x="327.95" y="59.61" width="6.07" height="4.11" fill="#fac338"/>
<rect x="333.43" y="59.61" width="6.07" height="4.11" fill="#4ec884"/>
<rect x="338.90" y="59.61" width="6.07" height="4.11" fill="#31c5a0"/>
<rect x="344.38" y="59.61" width="6.07" height="4.11" fill="#347af6"/>
<rect x="349.85" y="59.61" width="6.07" height="4.11" fill="#2b8bf4"/>
<rect x="355.32" y="59.61" width="6.07" height="4.11" fill="#2693ee"/>
<rect x="360.80" y="59.61" width="6.07" height="4.11" fill="#2b8bf4"/>
<rect x="366.27" y="59.61" width="6.07" height="4.11" fill="#2693ee"/>
<rect x="371.75" y="59.61" width="6.07" height="4.11" fill="#219ae8"/>
<rect x="377.23" y="59.61" width="6.07" height="4.11" fill="#347af6"/>
<rect x="382.70" y="59.61" width="6.07" height="4.11" fill="#347af6"/>
<rect x="388.18" y="59.61" width="6.07" height="4.11" fill="#347af6"/>
<rect x="393.65" y="59.61" width="6.07" height="4.11" fill="#3d67f5"/>
<rect x="399.12" y="59.61" width="6.07" height="4.11" fill="#3e26a8"/>
<rect x="404.60" y="59.61" width="6.07" height="4.11" fill="#31c5a0"/>
<rect x="410.07" y="59.61" width="6.07" height="4.11" fill="#17b5cd"/>
<rect x="415.55" y="59.61" width="6.07" height="4.11" fill="#219ae8"/>
<rect x="421.02" y="59.61" width="6.07" height="4.11" fill="#4ec884"/>
<rect x="426.50" y="59.61" width="6.07" height="4.11" fill="#fec835"/>
<rect x="431.98" y="59.61" width="6.07" height="4.11" fill="#fec835"/>
<rect x="437.45" y="59.61" width="6.07" height="4.11" fill="#fec835"/>
<rect x="442.93" y="59.61" width="6.07" height="4.11" fill="#4ec884"/>
<rect x="448.40" y="59.61" width="6.07" height="4.11" fill="#347af6"/>
<rect x="453.88" y="59.61" width="6.07" height="4.11" fill="#24bdb7"/>
<rect x="459.35" y="59.61" width="6.07" height="4.11" fill="#24bdb7"/>
<rect x="464.82" y="59.61" width="6.07" height="4.11" fill="#24bdb7"/>
<rect x="470.30" y="59.61" width="6.07" height="4.11" fill="#77c763"/>
<rect x="475.77" y="59.61" width="6.07" height="4.11" fill="#77c763"/>
<rect x="481.25" y="59.61" width="6.07" height="4.11" fill="#77c763"/>
<rect x="486.73" y="59.61" width="6.07" height="4.11" fill="#d3c538"/>
<rect x="492.20" y="59.61" width="6.07" height="4.11" fill="#77c763"/>
<rect x="497.67" y="59.61" width="6.07" height="4.11" fill="#77c763"/>
<rect x="503.15" y="59.61" width="6.07" height="4.11" fill="#77c763"/>
<rect x="508.62" y="59.61" width="6.07" height="4.11" fill="#17a9dd"/>
<rect x="514.10" y="59.61" width="6.07" height="4.11" fill="#31c5a0"/>
<rect x="519.58" y="59.61" width="6.07" height="4.11" fill="#77c763"/>
<rect x="525.05" y="59.61" width="6.07" height="4.11" fill="#4ec884"/>
<rect x="530.52" y="59.61" width="5.47" height="4.11" fill="#4ec884"/>
<rect x="317.00" y="63.12" width="6.07" height="4.11" fill="#4ec884"/>
<rect x="322.48" y="63.12" width="6.07" height="4.11" fill="#fac338"/>
<rect x="327.95" y="63.12" width="6.07" height="4.11" fill="#fdcf31"/>
<rect x="333.43" y="63.12" width="6.07" height="4.11" fill="#4ec884"/>
<rect x="338.90" y="63.12" width="6.07" height="4.11" fill="#31c5a0"/>
<rect x="344.38" y="63.12" width="6.07" height="4.11" fill="#219ae8"/>
<rect x="349.85" y="63.12" width="6.07" height="4.11" fill="#17a9dd"/>
<rect x="355.32" y="63.12" width="6.07" height="4.11" fill="#24bdb7"/>
<rect x="360.80" y="63.12" width="6.07" height="4.11" fill="#24bdb7"/>
<rect x="366.27" y="63.12" width="6.07" height="4.11" fill="#24bdb7"/>
<rect x="371.75" y="63.12" width="6.07" height="4.11" fill="#31c5a0"/>
<rect x="377.23" y="63.12" width="6.07" height="4.11" fill="#24bdb7"/>
<rect x="382.70" y="63.12" width="6.07" height="4.11" fill="#24bdb7"/>
<rect x="388.18" y="63.12" width="6.07" height="4.11" fill="#fdcf31"/>
<rect x="393.65" y="63.12" width="6.07" height="4.11" fill="#4ec884"/>
<rect x="399.12" y="63.12" width="6.07" height="4.11" fill="#31c5a0"/>
<rect x="404.60" y="63.12" width="6.07" height="4.11" fill="#3e26a8"/>
<rect x="410.07" y="63.12" width="6.07" height="4.11" fill="#347af6"/>
<rect x="415.55" y="63.12" width="6.07" height="4.11" fill="#219ae8"/>
<rect x="421.02" y="63.12" width="6.07" height="4.11" fill="#24bdb7"/>
<rect x="426.50" y="63.12" width="6.07" height="4.11" fill="#63c874"/>
<rect x="431.98" y="63.12" width="6.07" height="4.11" fill="#77c763"/>
<rect x="437.45" y="63.12" width="6.07" height="4.11" fill="#77c763"/>
<rect x="442.93" y="63.12" width="6.07" height="4.11" fill="#17b5cd"/>
<rect x="448.40" y="63.12" width="6.07" height="4.11" fill="#adc739"/>
<rect x="453.88" y="63.12" width="6.07" height="4.11" fill="#fac338"/>
<rect x="459.35" y="63.12" width="6.07" height="4.11" fill="#fac338"/>
<rect x="464.82" y="63.12" width="6.07" height="4.11" fill="#fac338"/>
<rect x="470.30" y="63.12" width="6.07" height="4.11" fill="#1ca1e2"/>
<rect x="475.77" y="63.12" width="6.07" height="4.11" fill="#219ae8"/>
<rect x="481.25" y="63.12" width="6.07" height="4.11" fill="#24bdb7"/>
<rect x="486.73" y="63.12" width="6.07" height="4.11" fill="#4ec884"/>
<rect x="492.20" y="63.12" width="6.07" height="4.11" fill="#4ec884"/>
<rect x="497.67" y="63.12" width="6.07" height="4.11" fill="#31c5a0"/>
<rect x="503.15" y="63.12" width="6.07" height="4.11" fill="#31c5a0"/>
<rect x="508.62" y="63.12" width="6.07" height="4.11" fill="#2b8bf4"/>
<rect x="514.10" y="63.12" width="6.07" height="4.11" fill="#faec1e"/>
<rect x="519.58" y="63.12" width="6.07" height="4.11" fill="#f9fb15"/>
<rect x="525.05" y="63.12" width="6.07" height="4.11" fill="#faec1e"/>
<rect x="530.52" y="63.12" width="5.47" height="4.11" fill="#fcde27"/>
<rect x="317.00" y="66.63" width="6.07" height="4.11" fill="#24bdb7"/>
<rect x="322.48" y="66.63" width="6.07" height="4.11" fill="#77c763"/>
<rect x="327.95" y="66.63" width="6.07" height="4.11" fill="#fac338"/>
<rect x="333.43" y="66.63" width="6.07" height="4.11" fill="#31c5a0"/>
<rect x="338.90" y="66.63" width="6.07" height="4.11" fill="#24bdb7"/>
<rect x="344.38" y="66.63" width="6.07" height="4.11" fill="#347af6"/>
<rect x="349.85" y="66.63" width="6.07" height="4.11" fill="#2b8bf4"/>
<rect x="355.32" y="66.63" width="6.07" height="4.11" fill="#219ae8"/>
<rect x="360.80" y="66.63" width="6.07" height="4.11" fill="#17a9dd"/>
<rect x="366.27" y="66.63" width="6.07" height="4.11" fill="#17a9dd"/>
<rect x="371.75" y="66.63" width="6.07" height="4.11" fill="#17b5cd"/>
<rect x="377.23" y="66.63" width="6.07" height="4.11" fill="#17a9dd"/>
<rect x="382.70" y="66.63" width="6.07" height="4.11" fill="#219ae8"/>
<rect x="388.18" y="66.63" width="6.07" height="4.11" fill="#31c5a0"/>
<rect x="393.65" y="66.63" width="6.07" height="4.11" fill="#24bdb7"/>
<rect x="399.12" y="66.63" width="6.07" height="4.11" fill="#17b5cd"/>
<rect x="404.60" y="66.63" width="6.07" height="4.11" fill="#347af6"/>
<rect x="410.07" y="66.63" width="6.07" height="4.11" fill="#3e26a8"/>
<rect x="415.55" y="66.63" width="6.07" height="4.11" fill="#3d67f5"/>
<rect x="421.02" y="66.63" width="6.07" height="4.11" fill="#24bdb7"/>
<rect x="426.50" y="66.63" width="6.07" height="4.11" fill="#4ec884"/>
<rect x="431.98" y="66.63" width="6.07" height="4.11" fill="#4ec884"/>
<rect x="437.45" y="66.63" width="6.07" height="4.11" fill="#63c874"/>
<rect x="442.93" y="66.63" width="6.07" height="4.11" fill="#17a9dd"/>
<rect x="448.40" y="66.63" width="6.07" height="4.11" fill="#24bdb7"/>
<rect x="453.88" y="66.63" width="6.07" height="4.11" fill="#77c763"/>
<rect x="459.35" y="66.63" width="6.07" height="4.11" fill="#77c763"/>
<rect x="464.82" y="66.63" width="6.07" height="4.11" fill="#77c763"/>
<rect x="470.30" y="66.63" width="6.07" height="4.11" fill="#219ae8"/>
<rect x="475.77" y="66.63" width="6.07" height="4.11" fill="#219ae8"/>
<rect x="481.25" y="66.63" width="6.07" height="4.11" fill="#24bdb7"/>
<rect x="486.73" y="66.63" width="6.07" height="4.11" fill="#4ec884"/>
<rect x="492.20" y="66.63" width="6.07" height="4.11" fill="#4ec884"/>
<rect x="497.67" y="66.63" width="6.07" height="4.11" fill="#31c5a0"/>
<rect x="503.15" y="66.63" width="6.07" height="4.11" fill="#31c5a0"/>
<rect x="508.62" y="66.63" width="6.07" height="4.11" fill="#347af6"/>
<rect x="514.10" y="66.63" width="6.07" height="4.11" fill="#fac338"/>
<rect x="519.58" y="66.63" width="6.07" height="4.11" fill="#fac338"/>
<rect x="525.05" y="66.63" width="6.07" height="4.11" fill="#fac338"/>
<rect x="530.52" y="66.63" width="5.47" height="4.11" fill="#fac338"/>
<rect x="317.00" y="70.14" width="6.07" height="4.11" fill="#17b5cd"/>
<rect x="322.48" y="70.14" width="6.07" height="4.11" fill="#24bdb7"/>
<rect x="327.95" y="70.14" width="6.07" height="4.11" fill="#4ec884"/>
<rect x="333.43" y="70.14" width="6.07" height="4.11" fill="#2bc1ac"/>
<rect x="338.90" y="70.14" width="6.07" height="4.11" fill="#24bdb7"/>
<rect x="344.38" y="70.14" width="6.07" height="4.11" fill="#4545dd"/>
<rect x="349.85" y="70.14" width="6.07" height="4.11" fill="#464deb"/>
<rect x="355.32" y="70.14" width="6.07" height="4.11" fill="#347af6"/>
<rect x="360.80" y="70.14" width="6.07" height="4.11" fill="#3083f7"/>
<rect x="366.27" y="70.14" width="6.07" height="4.11" fill="#2b8bf4"/>
<rect x="371.75" y="70.14" width="6.07" height="4.11" fill="#2b8bf4"/>
<rect x="377.23" y="70.14" width="6.07" height="4.11" fill="#347af6"/>
<rect x="382.70" y="70.14" width="6.07" height="4.11" fill="#347af6"/>
<rect x="388.18" y="70.14" width="6.07" height="4.11" fill="#17a9dd"/>
<rect x="393.65" y="70.14" width="6.07" height="4.11" fill="#17a9dd"/>
<rect x="399.12" y="70.14" width="6.07" height="4.11" fill="#219ae8"/>
<rect x="404.60" y="70.14" width="6.07" height="4.11" fill="#219ae8"/>
<rect x="410.07" y="70.14" width="6.07" height="4.11" fill="#3d67f5"/>
<rect x="415.55" y="70.14" width="6.07" height="4.11" fill="#3e26a8"/>
<rect x="421.02" y="70.14" width="6.07" height="4.11" fill="#17a9dd"/>
<rect x="426.50" y="70.14" width="6.07" height="4.11" fill="#31c5a0"/>
<rect x="431.98" y="70.14" width="6.07" height="4.11" fill="#31c5a0"/>
<rect x="437.45" y="70.14" width="6.07" height="4.11" fill="#31c5a0"/>
<rect x="442.93" y="70.14" width="6.07" height="4.11" fill="#17a9dd"/>
<rect x="448.40" y="70.14" width="6.07" height="4.11" fill="#24bdb7"/>
<rect x="453.88" y="70.14" width="6.07" height="4.11" fill="#24bdb7"/>
<rect x="459.35" y="70.14" width="6.07" height="4.11" fill="#24bdb7"/>
<rect x="464.82" y="70.14" width="6.07" height="4.11" fill="#24bdb7"/>
<rect x="470.30" y="70.14" width="6.07" height="4.11" fill="#219ae8"/>
<rect x="475.77" y="70.14" width="6.07" height="4.11" fill="#219ae8"/>
<rect x="481.25" y="70.14" width="6.07" height="4.11" fill="#24bdb7"/>
<rect x="486.73" y="70.14" width="6.07" height="4.11" fill="#31c5a0"/>
<rect x="492.20" y="70.14" width="6.07" height="4.11" fill="#31c5a0"/>
<rect x="497.67" y="70.14" width="6.07" height="4.11" fill="#24bdb7"/>
<rect x="503.15" y="70.14" width="6.07" height="4.11" fill="#24bdb7"/>
<rect x="508.62" y="70.14" width="6.07" height="4.11" fill="#3d67f5"/>
<rect x="514.10" y="70.14" width="6.07" height="4.11" fill="#77c763"/>
<rect x="519.58" y="70.14" width="6.07" height="4.11" fill="#77c763"/>
<rect x="525.05" y="70.14" width="6.07" height="4.11" fill="#4ec884"/>
<rect x="530.52" y="70.14" width="5.47" height="4.11" fill="#4ec884"/>
<rect x="317.00" y="73.64" width="6.07" height="4.11" fill="#219ae8"/>
<rect x="322.48" y="73.64" width="6.07" height="4.11" fill="#1ca1e2"/>
<rect x="327.95" y="73.64" width="6.07" height="4.11" fill="#17b5cd"/>
<rect x="333.43" y="73.64" width="6.07" height="4.11" fill="#17a9dd"/>
<rect x="338.90" y="73.64" width="6.07" height="4.11" fill="#347af6"/>
<rect x="344.38" y="73.64" width="6.07" height="4.11" fill="#17b5cd"/>
<rect x="349.85" y="73.64" width="6.07" height="4.11" fill="#1eb9c2"/>
<rect x="355.32" y="73.64" width="6.07" height="4.11" fill="#24bdb7"/>
<rect x="360.80" y="73.64" width="6.07" height="4.11" fill="#24bdb7"/>
<rect x="366.27" y="73.64" width="6.07" height="4.11" fill="#24bdb7"/>
<rect x="371.75" y="73.64" width="6.07" height="4.11" fill="#219ae8"/>
<rect x="377.23" y="73.64" width="6.07" height="4.11" fill="#24bdb7"/>
<rect x="382.70" y="73.64" width="6.07" height="4.11" fill="#24bdb7"/>
<rect x="388.18" y="73.64" width="6.07" height="4.11" fill="#fac338"/>
<rect x="393.65" y="73.64" width="6.07" height="4.11" fill="#d3c538"/>
<rect x="399.12" y="73.64" width="6.07" height="4.11" fill="#4ec884"/>
<rect x="404.60" y="73.64" width="6.07" height="4.11" fill="#24bdb7"/>
<rect x="410.07" y="73.64" width="6.07" height="4.11" fill="#24bdb7"/>
<rect x="415.55" y="73.64" width="6.07" height="4.11" fill="#17a9dd"/>
<rect x="421.02" y="73.64" width="6.07" height="4.11" fill="#3e26a8"/>
<rect x="426.50" y="73.64" width="6.07" height="4.11" fill="#347af6"/>
<rect x="431.98" y="73.64" width="6.07" height="4.11" fill="#347af6"/>
<rect x="437.45" y="73.64" width="6.07" height="4.11" fill="#347af6"/>
<rect x="442.93" y="73.64" width="6.07" height="4.11" fill="#3d67f5"/>
<rect x="448.40" y="73.64" width="6.07" height="4.11" fill="#31c5a0"/>
<rect x="453.88" y="73.64" width="6.07" height="4.11" fill="#4ec884"/>
<rect x="459.35" y="73.64" width="6.07" height="4.11" fill="#4ec884"/>
<rect x="464.82" y="73.64" width="6.07" height="4.11" fill="#4ec884"/>
<rect x="470.30" y="73.64" width="6.07" height="4.11" fill="#3d67f5"/>
<rect x="475.77" y="73.64" width="6.07" height="4.11" fill="#3d67f5"/>
<rect x="481.25" y="73.64" width="6.07" height="4.11" fill="#3d67f5"/>
<rect x="486.73" y="73.64" width="6.07" height="4.11" fill="#347af6"/>
<rect x="492.20" y="73.64" width="6.07" height="4.11" fill="#347af6"/>
<rect x="497.67" y="73.64" width="6.07" height="4.11" fill="#347af6"/>
<rect x="503.15" y="73.64" width="6.07" height="4.11" fill="#347af6"/>
<rect x="508.62" y="73.64" width="6.07" height="4.11" fill="#2b8bf4"/>
<rect x="514.10" y="73.64" width="6.07" height="4.11" fill="#77c763"/>
<rect x="519.58" y="73.64" width="6.07" height="4.11" fill="#31c5a0"/>
<rect x="525.05" y="73.64" width="6.07" height="4.11" fill="#31c5a0"/>
<rect x="530.52" y="73.64" width="5.47" height="4.11" fill="#31c5a0"/>
<rect x="317.00" y="77.15" width="6.07" height="4.11" fill="#17b5cd"/>
<rect x="322.48" y="77.15" width="6.07" height="4.11" fill="#24bdb7"/>
<rect x="327.95" y="77.15" width="6.07" height="4.11" fill="#17a9dd"/>
<rect x="333.43" y="77.15" width="6.07" height="4.11" fill="#2b8bf4"/>
<rect x="338.90" y="77.15" width="6.07" height="4.11" fill="#3d67f5"/>
<rect x="344.38" y="77.15" width="6.07" height="4.11" fill="#adc739"/>
<rect x="349.85" y="77.15" width="6.07" height="4.11" fill="#77c763"/>
<rect x="355.32" y="77.15" width="6.07" height="4.11" fill="#4ec884"/>
<rect x="360.80" y="77.15" width="6.07" height="4.11" fill="#4ec884"/>
<rect x="366.27" y="77.15" width="6.07" height="4.11" fill="#4ec884"/>
<rect x="371.75" y="77.15" width="6.07" height="4.11" fill="#17b5cd"/>
<rect x="377.23" y="77.15" width="6.07" height="4.11" fill="#77c763"/>
<rect x="382.70" y="77.15" width="6.07" height="4.11" fill="#92c74d"/>
<rect x="388.18" y="77.15" width="6.07" height="4.11" fill="#faf419"/>
<rect x="393.65" y="77.15" width="6.07" height="4.11" fill="#faec1e"/>
<rect x="399.12" y="77.15" width="6.07" height="4.11" fill="#fec835"/>
<rect x="404.60" y="77.15" width="6.07" height="4.11" fill="#63c874"/>
<rect x="410.07" y="77.15" width="6.07" height="4.11" fill="#4ec884"/>
<rect x="415.55" y="77.15" width="6.07" height="4.11" fill="#31c5a0"/>
<rect x="421.02" y="77.15" width="6.07" height="4.11" fill="#347af6"/>
<rect x="426.50" y="77.15" width="6.07" height="4.11" fill="#3e26a8"/>
<rect x="431.98" y="77.15" width="6.07" height="4.11" fill="#4136c3"/>
<rect x="437.45" y="77.15" width="6.07" height="4.11" fill="#433dd0"/>
<rect x="442.93" y="77.15" width="6.07" height="4.11" fill="#219ae8"/>
<rect x="448.40" y="77.15" width="6.07" height="4.11" fill="#fac338"/>
<rect x="453.88" y="77.15" width="6.07" height="4.11" fill="#d3c538"/>
<rect x="459.35" y="77.15" width="6.07" height="4.11" fill="#d3c538"/>
<rect x="464.82" y="77.15" width="6.07" height="4.11" fill="#77c763"/>
<rect x="470.30" y="77.15" width="6.07" height="4.11" fill="#12b0d7"/>
<rect x="475.77" y="77.15" width="6.07" height="4.11" fill="#2693ee"/>
<rect x="481.25" y="77.15" width="6.07" height="4.11" fill="#3d67f5"/>
<rect x="486.73" y="77.15" width="6.07" height="4.11" fill="#464deb"/>
<rect x="492.20" y="77.15" width="6.07" height="4.11" fill="#464deb"/>
<rect x="497.67" y="77.15" width="6.07" height="4.11" fill="#464deb"/>
<rect x="503.15" y="77.15" width="6.07" height="4.11" fill="#3d67f5"/>
<rect x="508.62" y="77.15" width="6.07" height="4.11" fill="#24bdb7"/>
<rect x="514.10" y="77.15" width="6.07" height="4.11" fill="#fac338"/>
<rect x="519.58" y="77.15" width="6.07" height="4.11" fill="#4ec884"/>
<rect x="525.05" y="77.15" width="6.07" height="4.11" fill="#4ec884"/>
<rect x="530.52" y="77.15" width="5.47" height="4.11" fill="#31c5a0"/>
<rect x="317.00" y="80.66" width="6.07" height="4.11" fill="#17b5cd"/>
<rect x="322.48" y="80.66" width="6.07" height="4.11" fill="#31c5a0"/>
<rect x="327.95" y="80.66" width="6.07" height="4.11" fill="#17b5cd"/>
<rect x="333.43" y="80.66" width="6.07" height="4.11" fill="#2b8bf4"/>
<rect x="338.90" y="80.66" width="6.07" height="4.11" fill="#3d67f5"/>
<rect x="344.38" y="80.66" width="6.07" height="4.11" fill="#adc739"/>
<rect x="349.85" y="80.66" width="6.07" height="4.11" fill="#77c763"/>
<rect x="355.32" y="80.66" width="6.07" height="4.11" fill="#63c874"/>
<rect x="360.80" y="80.66" width="6.07" height="4.11" fill="#4ec884"/>
<rect x="366.27" y="80.66" width="6.07" height="4.11" fill="#4ec884"/>
<rect x="371.75" y="80.66" width="6.07" height="4.11" fill="#17b5cd"/>
<rect x="377.23" y="80.66" width="6.07" height="4.11" fill="#77c763"/>
<rect x="382.70" y="80.66" width="6.07" height="4.11" fill="#adc739"/>
<rect x="388.18" y="80.66" width="6.07" height="4.11" fill="#f9fb15"/>
<rect x="393.65" y="80.66" width="6.07" height="4.11" fill="#faec1e"/>
<rect x="399.12" y="80.66" width="6.07" height="4.11" fill="#fec835"/>
<rect x="404.60" y="80.66" width="6.07" height="4.11" fill="#77c763"/>
<rect x="410.07" y="80.66" width="6.07" height="4.11" fill="#4ec884"/>
<rect x="415.55" y="80.66" width="6.07" height="4.11" fill="#31c5a0"/>
<rect x="421.02" y="80.66" width="6.07" height="4.11" fill="#347af6"/>
<rect x="426.50" y="80.66" width="6.07" height="4.11" fill="#4136c3"/>
<rect x="431.98" y="80.66" width="6.07" height="4.11" fill="#3e26a8"/>
<rect x="437.45" y="80.66" width="6.07" height="4.11" fill="#433dd0"/>
<rect x="442.93" y="80.66" width="6.07" height="4.11" fill="#219ae8"/>
<rect x="448.40" y="80.66" width="6.07" height="4.11" fill="#fac338"/>
<rect x="453.88" y="80.66" width="6.07" height="4.11" fill="#d3c538"/>
<rect x="459.35" y="80.66" width="6.07" height="4.11" fill="#d3c538"/>
<rect x="464.82" y="80.66" width="6.07" height="4.11" fill="#77c763"/>
<rect x="470.30" y="80.66" width="6.07" height="4.11" fill="#12b0d7"/>
<rect x="475.77" y="80.66" width="6.07" height="4.11" fill="#2693ee"/>
<rect x="481.25" y="80.66" width="6.07" height="4.11" fill="#3d67f5"/>
<rect x="486.73" y="80.66" width="6.07" height="4.11" fill="#464deb"/>
<rect x="492.20" y="80.66" width="6.07" height="4.11" fill="#464deb"/>
<rect x="497.67" y="80.66" width="6.07" height="4.11" fill="#464deb"/>
<rect x="503.15" y="80.66" width="6.07" height="4.11" fill="#3d67f5"/>
<rect x="508.62" y="80.66" width="6.07" height="4.11" fill="#24bdb7"/>
<rect x="514.10" y="80.66" width="6.07" height="4.11" fill="#fac338"/>
<rect x="519.58" y="80.66" width="6.07" height="4.11" fill="#77c763"/>
<rect x="525.05" y="80.66" width="6.07" height="4.11" fill="#77c763"/>
<rect x="530.52" y="80.66" width="5.47" height="4.11" fill="#4ec884"/>
<rect x="317.00" y="84.17" width="6.07" height="4.11" fill="#17b5cd"/>
<rect x="322.48" y="84.17" width="6.07" height="4.11" fill="#4ec884"/>
<rect x="327.95" y="84.17" width="6.07" height="4.11" fill="#24bdb7"/>
<rect x="333.43" y="84.17" width="6.07" height="4.11" fill="#219ae8"/>
<rect x="338.90" y="84.17" width="6.07" height="4.11" fill="#347af6"/>
<rect x="344.38" y="84.17" width="6.07" height="4.11" fill="#fac338"/>
<rect x="349.85" y="84.17" width="6.07" height="4.11" fill="#c0c639"/>
<rect x="355.32" y="84.17" width="6.07" height="4.11" fill="#adc739"/>
<rect x="360.80" y="84.17" width="6.07" height="4.11" fill="#adc739"/>
<rect x="366.27" y="84.17" width="6.07" height="4.11" fill="#77c763"/>
<rect x="371.75" y="84.17" width="6.07" height="4.11" fill="#17b5cd"/>
<rect x="377.23" y="84.17" width="6.07" height="4.11" fill="#e7c438"/>
<rect x="382.70" y="84.17" width="6.07" height="4.11" fill="#fac338"/>
<rect x="388.18" y="84.17" width="6.07" height="4.11" fill="#f9fb15"/>
<rect x="393.65" y="84.17" width="6.07" height="4.11" fill="#faf419"/>
<rect x="399.12" y="84.17" width="6.07" height="4.11" fill="#fec835"/>
<rect x="404.60" y="84.17" width="6.07" height="4.11" fill="#77c763"/>
<rect x="410.07" y="84.17" width="6.07" height="4.11" fill="#63c874"/>
<rect x="415.55" y="84.17" width="6.07" height="4.11" fill="#31c5a0"/>
<rect x="421.02" y="84.17" width="6.07" height="4.11" fill="#347af6"/>
<rect x="426.50" y="84.17" width="6.07" height="4.11" fill="#433dd0"/>
<rect x="431.98" y="84.17" width="6.07" height="4.11" fill="#433dd0"/>
<rect x="437.45" y="84.17" width="6.07" height="4.11" fill="#3e26a8"/>
<rect x="442.93" y="84.17" width="6.07" height="4.11" fill="#219ae8"/>
<rect x="448.40" y="84.17" width="6.07" height="4.11" fill="#fec835"/>
<rect x="453.88" y="84.17" width="6.07" height="4.11" fill="#fac338"/>
<rect x="459.35" y="84.17" width="6.07" height="4.11" fill="#fac338"/>
<rect x="464.82" y="84.17" width="6.07" height="4.11" fill="#e7c438"/>
<rect x="470.30" y="84.17" width="6.07" height="4.11" fill="#12b0d7"/>
<rect x="475.77" y="84.17" width="6.07" height="4.11" fill="#219ae8"/>
<rect x="481.25" y="84.17" width="6.07" height="4.11" fill="#3d67f5"/>
<rect x="486.73" y="84.17" width="6.07" height="4.11" fill="#464deb"/>
<rect x="492.20" y="84.17" width="6.07" height="4.11" fill="#464deb"/>
<rect x="497.67" y="84.17" width="6.07" height="4.11" fill="#464deb"/>
<rect x="503.15" y="84.17" width="6.07" height="4.11" fill="#3d67f5"/>
<rect x="508.62" y="84.17" width="6.07" height="4.11" fill="#24bdb7"/>
<rect x="514.10" y="84.17" width="6.07" height="4.11" fill="#fdcf31"/>
<rect x="519.58" y="84.17" width="6.07" height="4.11" fill="#adc739"/>
<rect x="525.05" y="84.17" width="6.07" height="4.11" fill="#adc739"/>
<rect x="530.52" y="84.17" width="5.47" height="4.11" fill="#77c763"/>
<rect x="317.00" y="87.67" width="6.07" height="4.11" fill="#24bdb7"/>
<rect x="322.48" y="87.67" width="6.07" height="4.11" fill="#31c5a0"/>
<rect x="327.95" y="87.67" width="6.07" height="4.11" fill="#77c763"/>
<rect x="333.43" y="87.67" width="6.07" height="4.11" fill="#17b5cd"/>
<rect x="338.90" y="87.67" width="6.07" height="4.11" fill="#219ae8"/>
<rect x="344.38" y="87.67" width="6.07" height="4.11" fill="#24bdb7"/>
<rect x="349.85" y="87.67" width="6.07" height="4.11" fill="#24bdb7"/>
<rect x="355.32" y="87.67" width="6.07" height="4.11" fill="#24bdb7"/>
<rect x="360.80" y="87.67" width="6.07" height="4.11" fill="#24bdb7"/>
<rect x="366.27" y="87.67" width="6.07" height="4.11" fill="#24bdb7"/>
<rect x="371.75" y="87.67" width="6.07" height="4.11" fill="#24bdb7"/>
<rect x="377.23" y="87.67" width="6.07" height="4.11" fill="#31c5a0"/>
<rect x="382.70" y="87.67" width="6.07" height="4.11" fill="#4ec884"/>
<rect x="388.18" y="87.67" width="6.07" height="4.11" fill="#fac338"/>
<rect x="393.65" y="87.67" width="6.07" height="4.11" fill="#fac338"/>
<rect x="399.12" y="87.67" width="6.07" height="4.11" fill="#4ec884"/>
<rect x="404.60" y="87.67" width="6.07" height="4.11" fill="#17b5cd"/>
<rect x="410.07" y="87.67" width="6.07" height="4.11" fill="#17a9dd"/>
<rect x="415.55" y="87.67" width="6.07" height="4.11" fill="#17a9dd"/>
<rect x="421.02" y="87.67" width="6.07" height="4.11" fill="#3d67f5"/>
<rect x="426.50" y="87.67" width="6.07" height="4.11" fill="#219ae8"/>
<rect x="431.98" y="87.67" width="6.07" height="4.11" fill="#219ae8"/>
<rect x="437.45" y="87.67" width="6.07" height="4.11" fill="#219ae8"/>
<rect x="442.93" y="87.67" width="6.07" height="4.11" fill="#3e26a8"/>
<rect x="448.40" y="87.67" width="6.07" height="4.11" fill="#77c763"/>
<rect x="453.88" y="87.67" width="6.07" height="4.11" fill="#d3c538"/>
<rect x="459.35" y="87.67" width="6.07" height="4.11" fill="#d3c538"/>
<rect x="464.82" y="87.67" width="6.07" height="4.11" fill="#c0c639"/>
<rect x="470.30" y="87.67" width="6.07" height="4.11" fill="#4655f4"/>
<rect x="475.77" y="87.67" width="6.07" height="4.11" fill="#4655f4"/>
<rect x="481.25" y="87.67" width="6.07" height="4.11" fill="#3d67f5"/>
<rect x="486.73" y="87.67" width="6.07" height="4.11" fill="#219ae8"/>
<rect x="492.20" y="87.67" width="6.07" height="4.11" fill="#219ae8"/>
<rect x="497.67" y="87.67" width="6.07" height="4.11" fill="#219ae8"/>
<rect x="503.15" y="87.67" width="6.07" height="4.11" fill="#219ae8"/>
<rect x="508.62" y="87.67" width="6.07" height="4.11" fill="#219ae8"/>
<rect x="514.10" y="87.67" width="6.07" height="4.11" fill="#fdcf31"/>
<rect x="519.58" y="87.67" width="6.07" height="4.11" fill="#fac338"/>
<rect x="525.05" y="87.67" width="6.07" height="4.11" fill="#fac338"/>
<rect x="530.52" y="87.67" width="5.47" height="4.11" fill="#fac338"/>
<rect x="317.00" y="91.18" width="6.07" height="4.11" fill="#17b5cd"/>
<rect x="322.48" y="91.18" width="6.07" height="4.11" fill="#2b8bf4"/>
<rect x="327.95" y="91.18" width="6.07" height="4.11" fill="#adc739"/>
<rect x="333.43" y="91.18" width="6.07" height="4.11" fill="#24bdb7"/>
<rect x="338.90" y="91.18" width="6.07" height="4.11" fill="#4ec884"/>
<rect x="344.38" y="91.18" width="6.07" height="4.11" fill="#2b8bf4"/>
<rect x="349.85" y="91.18" width="6.07" height="4.11" fill="#219ae8"/>
<rect x="355.32" y="91.18" width="6.07" height="4.11" fill="#3d67f5"/>
<rect x="360.80" y="91.18" width="6.07" height="4.11" fill="#347af6"/>
<rect x="366.27" y="91.18" width="6.07" height="4.11" fill="#347af6"/>
<rect x="371.75" y="91.18" width="6.07" height="4.11" fill="#219ae8"/>
<rect x="377.23" y="91.18" width="6.07" height="4.11" fill="#425ef5"/>
<rect x="382.70" y="91.18" width="6.07" height="4.11" fill="#425ef5"/>
<rect x="388.18" y="91.18" width="6.07" height="4.11" fill="#425ef5"/>
<rect x="393.65" y="91.18" width="6.07" height="4.11" fill="#425ef5"/>
<rect x="399.12" y="91.18" width="6.07" height="4.11" fill="#347af6"/>
<rect x="404.60" y="91.18" width="6.07" height="4.11" fill="#adc739"/>
<rect x="410.07" y="91.18" width="6.07" height="4.11" fill="#24bdb7"/>
<rect x="415.55" y="91.18" width="6.07" height="4.11" fill="#24bdb7"/>
<rect x="421.02" y="91.18" width="6.07" height="4.11" fill="#31c5a0"/>
<rect x="426.50" y="91.18" width="6.07" height="4.11" fill="#fac338"/>
<rect x="431.98" y="91.18" width="6.07" height="4.11" fill="#fac338"/>
<rect x="437.45" y="91.18" width="6.07" height="4.11" fill="#fec835"/>
<rect x="442.93" y="91.18" width="6.07" height="4.11" fill="#77c763"/>
<rect x="448.40" y="91.18" width="6.07" height="4.11" fill="#3e26a8"/>
<rect x="453.88" y="91.18" width="6.07" height="4.11" fill="#3083f7"/>
<rect x="459.35" y="91.18" width="6.07" height="4.11" fill="#3083f7"/>
<rect x="464.82" y="91.18" width="6.07" height="4.11" fill="#3083f7"/>
<rect x="470.30" y="91.18" width="6.07" height="4.11" fill="#77c763"/>
<rect x="475.77" y="91.18" width="6.07" height="4.11" fill="#77c763"/>
<rect x="481.25" y="91.18" width="6.07" height="4.11" fill="#adc739"/>
<rect x="486.73" y="91.18" width="6.07" height="4.11" fill="#fac338"/>
<rect x="492.20" y="91.18" width="6.07" height="4.11" fill="#77c763"/>
<rect x="497.67" y="91.18" width="6.07" height="4.11" fill="#77c763"/>
<rect x="503.15" y="91.18" width="6.07" height="4.11" fill="#4ec884"/>
<rect x="508.62" y="91.18" width="6.07" height="4.11" fill="#24bdb7"/>
<rect x="514.10" y="91.18" width="6.07" height="4.11" fill="#2b8bf4"/>
<rect x="519.58" y="91.18" width="6.07" height="4.11" fill="#17b5cd"/>
<rect x="525.05" y="91.18" width="6.07" height="4.11" fill="#219ae8"/>
<rect x="530.52" y="91.18" width="5.47" height="4.11" fill="#219ae8"/>
<rect x="317.00" y="94.69" width="6.07" height="4.11" fill="#17a9dd"/>
<rect x="322.48" y="94.69" width="6.07" height="4.11" fill="#3d67f5"/>
<rect x="327.95" y="94.69" width="6.07" height="4.11" fill="#24bdb7"/>
<rect x="333.43" y="94.69" width="6.07" height="4.11" fill="#24bdb7"/>
<rect x="338.90" y="94.69" width="6.07" height="4.11" fill="#31c5a0"/>
<rect x="344.38" y="94.69" width="6.07" height="4.11" fill="#24bdb7"/>
<rect x="349.85" y="94.69" width="6.07" height="4.11" fill="#24bdb7"/>
<rect x="355.32" y="94.69" width="6.07" height="4.11" fill="#347af6"/>
<rect x="360.80" y="94.69" width="6.07" height="4.11" fill="#3083f7"/>
<rect x="366.27" y="94.69" width="6.07" height="4.11" fill="#2b8bf4"/>
<rect x="371.75" y="94.69" width="6.07" height="4.11" fill="#219ae8"/>
<rect x="377.23" y="94.69" width="6.07" height="4.11" fill="#2b8bf4"/>
<rect x="382.70" y="94.69" width="6.07" height="4.11" fill="#2b8bf4"/>
<rect x="388.18" y="94.69" width="6.07" height="4.11" fill="#219ae8"/>
<rect x="393.65" y="94.69" width="6.07" height="4.11" fill="#24bdb7"/>
<rect x="399.12" y="94.69" width="6.07" height="4.11" fill="#24bdb7"/>
<rect x="404.60" y="94.69" width="6.07" height="4.11" fill="#fac338"/>
<rect x="410.07" y="94.69" width="6.07" height="4.11" fill="#77c763"/>
<rect x="415.55" y="94.69" width="6.07" height="4.11" fill="#24bdb7"/>
<rect x="421.02" y="94.69" width="6.07" height="4.11" fill="#4ec884"/>
<rect x="426.50" y="94.69" width="6.07" height="4.11" fill="#d3c538"/>
<rect x="431.98" y="94.69" width="6.07" height="4.11" fill="#d3c538"/>
<rect x="437.45" y="94.69" width="6.07" height="4.11" fill="#fac338"/>
<rect x="442.93" y="94.69" width="6.07" height="4.11" fill="#d3c538"/>
<rect x="448.40" y="94.69" width="6.07" height="4.11" fill="#3083f7"/>
<rect x="453.88" y="94.69" width="6.07" height="4.11" fill="#3e26a8"/>
<rect x="459.35" y="94.69" width="6.07" height="4.11" fill="#4136c3"/>
<rect x="464.82" y="94.69" width="6.07" height="4.11" fill="#433dd0"/>
<rect x="470.30" y="94.69" width="6.07" height="4.11" fill="#92c74d"/>
<rect x="475.77" y="94.69" width="6.07" height="4.11" fill="#92c74d"/>
<rect x="481.25" y="94.69" width="6.07" height="4.11" fill="#adc739"/>
<rect x="486.73" y="94.69" width="6.07" height="4.11" fill="#adc739"/>
<rect x="492.20" y="94.69" width="6.07" height="4.11" fill="#77c763"/>
<rect x="497.67" y="94.69" width="6.07" height="4.11" fill="#77c763"/>
<rect x="503.15" y="94.69" width="6.07" height="4.11" fill="#4ec884"/>
<rect x="508.62" y="94.69" width="6.07" height="4.11" fill="#24bdb7"/>
<rect x="514.10" y="94.69" width="6.07" height="4.11" fill="#3d67f5"/>
<rect x="519.58" y="94.69" width="6.07" height="4.11" fill="#219ae8"/>
<rect x="525.05" y="94.69" width="6.07" height="4.11" fill="#347af6"/>
<rect x="530.52" y="94.69" width="5.47" height="4.11" fill="#2b8bf4"/>
<rect x="317.00" y="98.20" width="6.07" height="4.11" fill="#17a9dd"/>
<rect x="322.48" y="98.20" width="6.07" height="4.11" fill="#3d67f5"/>
<rect x="327.95" y="98.20" width="6.07" height="4.11" fill="#24bdb7"/>
<rect x="333.43" y="98.20" width="6.07" height="4.11" fill="#31c5a0"/>
<rect x="338.90" y="98.20" width="6.07" height="4.11" fill="#31c5a0"/>
<rect x="344.38" y="98.20" width="6.07" height="4.11" fill="#24bdb7"/>
<rect x="349.85" y="98.20" width="6.07" height="4.11" fill="#24bdb7"/>
<rect x="355.32" y="98.20" width="6.07" height="4.11" fill="#347af6"/>
<rect x="360.80" y="98.20" width="6.07" height="4.11" fill="#2b8bf4"/>
<rect x="366.27" y="98.20" width="6.07" height="4.11" fill="#2b8bf4"/>
<rect x="371.75" y="98.20" width="6.07" height="4.11" fill="#219ae8"/>
<rect x="377.23" y="98.20" width="6.07" height="4.11" fill="#2b8bf4"/>
<rect x="382.70" y="98.20" width="6.07" height="4.11" fill="#2b8bf4"/>
<rect x="388.18" y="98.20" width="6.07" height="4.11" fill="#219ae8"/>
<rect x="393.65" y="98.20" width="6.07" height="4.11" fill="#24bdb7"/>
<rect x="399.12" y="98.20" width="6.07" height="4.11" fill="#24bdb7"/>
<rect x="404.60" y="98.20" width="6.07" height="4.11" fill="#fac338"/>
<rect x="410.07" y="98.20" width="6.07" height="4.11" fill="#77c763"/>
<rect x="415.55" y="98.20" width="6.07" height="4.11" fill="#24bdb7"/>
<rect x="421.02" y="98.20" width="6.07" height="4.11" fill="#4ec884"/>
<rect x="426.50" y="98.20" width="6.07" height="4.11" fill="#d3c538"/>
<rect x="431.98" y="98.20" width="6.07" height="4.11" fill="#d3c538"/>
<rect x="437.45" y="98.20" width="6.07" height="4.11" fill="#fac338"/>
<rect x="442.93" y="98.20" width="6.07" height="4.11" fill="#d3c538"/>
<rect x="448.40" y="98.20" width="6.07" height="4.11" fill="#3083f7"/>
<rect x="453.88" y="98.20" width="6.07" height="4.11" fill="#4136c3"/>
<rect x="459.35" y="98.20" width="6.07" height="4.11" fill="#3e26a8"/>
<rect x="464.82" y="98.20" width="6.07" height="4.11" fill="#4239c8"/>
<rect x="470.30" y="98.20" width="6.07" height="4.11" fill="#adc739"/>
<rect x="475.77" y="98.20" width="6.07" height="4.11" fill="#adc739"/>
<rect x="481.25" y="98.20" width="6.07" height="4.11" fill="#adc739"/>
<rect x="486.73" y="98.20" width="6.07" height="4.11" fill="#adc739"/>
<rect x="492.20" y="98.20" width="6.07" height="4.11" fill="#77c763"/>
<rect x="497.67" y="98.20" width="6.07" height="4.11" fill="#77c763"/>
<rect x="503.15" y="98.20" width="6.07" height="4.11" fill="#4ec884"/>
<rect x="508.62" y="98.20" width="6.07" height="4.11" fill="#24bdb7"/>
<rect x="514.10" y="98.20" width="6.07" height="4.11" fill="#3d67f5"/>
<rect x="519.58" y="98.20" width="6.07" height="4.11" fill="#219ae8"/>
<rect x="525.05" y="98.20" width="6.07" height="4.11" fill="#347af6"/>
<rect x="530.52" y="98.20" width="5.47" height="4.11" fill="#2b8bf4"/>
<rect x="317.00" y="101.70" width="6.07" height="4.11" fill="#17a9dd"/>
<rect x="322.48" y="101.70" width="6.07" height="4.11" fill="#4655f4"/>
<rect x="327.95" y="101.70" width="6.07" height="4.11" fill="#24bdb7"/>
<rect x="333.43" y="101.70" width="6.07" height="4.11" fill="#17b5cd"/>
<rect x="338.90" y="101.70" width="6.07" height="4.11" fill="#24bdb7"/>
<rect x="344.38" y="101.70" width="6.07" height="4.11" fill="#24bdb7"/>
<rect x="349.85" y="101.70" width="6.07" height="4.11" fill="#24bdb7"/>
<rect x="355.32" y="101.70" width="6.07" height="4.11" fill="#347af6"/>
<rect x="360.80" y="101.70" width="6.07" height="4.11" fill="#347af6"/>
<rect x="366.27" y="101.70" width="6.07" height="4.11" fill="#2b8bf4"/>
<rect x="371.75" y="101.70" width="6.07" height="4.11" fill="#219ae8"/>
<rect x="377.23" y="101.70" width="6.07" height="4.11" fill="#2b8bf4"/>
<rect x="382.70" y="101.70" width="6.07" height="4.11" fill="#2b8bf4"/>
<rect x="388.18" y="101.70" width="6.07" height="4.11" fill="#219ae8"/>
<rect x="393.65" y="101.70" width="6.07" height="4.11" fill="#24bdb7"/>
<rect x="399.12" y="101.70" width="6.07" height="4.11" fill="#24bdb7"/>
<rect x="404.60" y="101.70" width="6.07" height="4.11" fill="#fac338"/>
<rect x="410.07" y="101.70" width="6.07" height="4.11" fill="#77c763"/>
<rect x="415.55" y="101.70" width="6.07" height="4.11" fill="#24bdb7"/>
<rect x="421.02" y="101.70" width="6.07" height="4.11" fill="#4ec884"/>
<rect x="426.50" y="101.70" width="6.07" height="4.11" fill="#77c763"/>
<rect x="431.98" y="101.70" width="6.07" height="4.11" fill="#77c763"/>
<rect x="437.45" y="101.70" width="6.07" height="4.11" fill="#e7c438"/>
<rect x="442.93" y="101.70" width="6.07" height="4.11" fill="#c0c639"/>
<rect x="448.40" y="101.70" width="6.07" height="4.11" fill="#3083f7"/>
<rect x="453.88" y="101.70" width="6.07" height="4.11" fill="#433dd0"/>
<rect x="459.35" y="101.70" width="6.07" height="4.11" fill="#4239c8"/>
<rect x="464.82" y="101.70" width="6.07" height="4.11" fill="#3e26a8"/>
<rect x="470.30" y="101.70" width="6.07" height="4.11" fill="#77c763"/>
<rect x="475.77" y="101.70" width="6.07" height="4.11" fill="#77c763"/>
<rect x="481.25" y="101.70" width="6.07" height="4.11" fill="#77c763"/>
<rect x="486.73" y="101.70" width="6.07" height="4.11" fill="#77c763"/>
<rect x="492.20" y="101.70" width="6.07" height="4.11" fill="#4ec884"/>
<rect x="497.67" y="101.70" width="6.07" height="4.11" fill="#4ec884"/>
<rect x="503.15" y="101.70" width="6.07" height="4.11" fill="#31c5a0"/>
<rect x="508.62" y="101.70" width="6.07" height="4.11" fill="#24bdb7"/>
<rect x="514.10" y="101.70" width="6.07" height="4.11" fill="#3d67f5"/>
<rect x="519.58" y="101.70" width="6.07" height="4.11" fill="#219ae8"/>
<rect x="525.05" y="101.70" width="6.07" height="4.11" fill="#2b8bf4"/>
<rect x="530.52" y="101.70" width="5.47" height="4.11" fill="#2b8bf4"/>
<rect x="317.00" y="105.21" width="6.07" height="4.11" fill="#12b0d7"/>
<rect x="322.48" y="105.21" width="6.07" height="4.11" fill="#2bc1ac"/>
<rect x="327.95" y="105.21" width="6.07" height="4.11" fill="#63c874"/>
<rect x="333.43" y="105.21" width="6.07" height="4.11" fill="#17b5cd"/>
<rect x="338.90" y="105.21" width="6.07" height="4.11" fill="#219ae8"/>
<rect x="344.38" y="105.21" width="6.07" height="4.11" fill="#24bdb7"/>
<rect x="349.85" y="105.21" width="6.07" height="4.11" fill="#24bdb7"/>
<rect x="355.32" y="105.21" width="6.07" height="4.11" fill="#24bdb7"/>
<rect x="360.80" y="105.21" width="6.07" height="4.11" fill="#24bdb7"/>
<rect x="366.27" y="105.21" width="6.07" height="4.11" fill="#24bdb7"/>
<rect x="371.75" y="105.21" width="6.07" height="4.11" fill="#24bdb7"/>
<rect x="377.23" y="105.21" width="6.07" height="4.11" fill="#24bdb7"/>
<rect x="382.70" y="105.21" width="6.07" height="4.11" fill="#2bc1ac"/>
<rect x="388.18" y="105.21" width="6.07" height="4.11" fill="#fac338"/>
<rect x="393.65" y="105.21" width="6.07" height="4.11" fill="#d3c538"/>
<rect x="399.12" y="105.21" width="6.07" height="4.11" fill="#77c763"/>
<rect x="404.60" y="105.21" width="6.07" height="4.11" fill="#1ca1e2"/>
<rect x="410.07" y="105.21" width="6.07" height="4.11" fill="#219ae8"/>
<rect x="415.55" y="105.21" width="6.07" height="4.11" fill="#219ae8"/>
<rect x="421.02" y="105.21" width="6.07" height="4.11" fill="#3d67f5"/>
<rect x="426.50" y="105.21" width="6.07" height="4.11" fill="#12b0d7"/>
<rect x="431.98" y="105.21" width="6.07" height="4.11" fill="#12b0d7"/>
<rect x="437.45" y="105.21" width="6.07" height="4.11" fill="#12b0d7"/>
<rect x="442.93" y="105.21" width="6.07" height="4.11" fill="#4655f4"/>
<rect x="448.40" y="105.21" width="6.07" height="4.11" fill="#77c763"/>
<rect x="453.88" y="105.21" width="6.07" height="4.11" fill="#92c74d"/>
<rect x="459.35" y="105.21" width="6.07" height="4.11" fill="#adc739"/>
<rect x="464.82" y="105.21" width="6.07" height="4.11" fill="#77c763"/>
<rect x="470.30" y="105.21" width="6.07" height="4.11" fill="#3e26a8"/>
<rect x="475.77" y="105.21" width="6.07" height="4.11" fill="#4655f4"/>
<rect x="481.25" y="105.21" width="6.07" height="4.11" fill="#4655f4"/>
<rect x="486.73" y="105.21" width="6.07" height="4.11" fill="#2b8bf4"/>
<rect x="492.20" y="105.21" width="6.07" height="4.11" fill="#2b8bf4"/>
<rect x="497.67" y="105.21" width="6.07" height="4.11" fill="#2b8bf4"/>
<rect x="503.15" y="105.21" width="6.07" height="4.11" fill="#347af6"/>
<rect x="508.62" y="105.21" width="6.07" height="4.11" fill="#2b8bf4"/>
<rect x="514.10" y="105.21" width="6.07" height="4.11" fill="#fac338"/>
<rect x="519.58" y="105.21" width="6.07" height="4.11" fill="#d3c538"/>
<rect x="525.05" y="105.21" width="6.07" height="4.11" fill="#d3c538"/>
<rect x="530.52" y="105.21" width="5.47" height="4.11" fill="#d3c538"/>
<rect x="317.00" y="108.72" width="6.07" height="4.11" fill="#24bdb7"/>
<rect x="322.48" y="108.72" width="6.07" height="4.11" fill="#24bdb7"/>
<rect x="327.95" y="108.72" width="6.07" height="4.11" fill="#24bdb7"/>
<rect x="333.43" y="108.72" width="6.07" height="4.11" fill="#219ae8"/>
<rect x="338.90" y="108.72" width="6.07" height="4.11" fill="#2b8bf4"/>
<rect x="344.38" y="108.72" width="6.07" height="4.11" fill="#2bc1ac"/>
<rect x="349.85" y="108.72" width="6.07" height="4.11" fill="#24bdb7"/>
<rect x="355.32" y="108.72" width="6.07" height="4.11" fill="#31c5a0"/>
<rect x="360.80" y="108.72" width="6.07" height="4.11" fill="#31c5a0"/>
<rect x="366.27" y="108.72" width="6.07" height="4.11" fill="#31c5a0"/>
<rect x="371.75" y="108.72" width="6.07" height="4.11" fill="#17b5cd"/>
<rect x="377.23" y="108.72" width="6.07" height="4.11" fill="#4ec884"/>
<rect x="382.70" y="108.72" width="6.07" height="4.11" fill="#4ec884"/>
<rect x="388.18" y="108.72" width="6.07" height="4.11" fill="#fac338"/>
<rect x="393.65" y="108.72" width="6.07" height="4.11" fill="#fac338"/>
<rect x="399.12" y="108.72" width="6.07" height="4.11" fill="#77c763"/>
<rect x="404.60" y="108.72" width="6.07" height="4.11" fill="#219ae8"/>
<rect x="410.07" y="108.72" width="6.07" height="4.11" fill="#219ae8"/>
<rect x="415.55" y="108.72" width="6.07" height="4.11" fill="#219ae8"/>
<rect x="421.02" y="108.72" width="6.07" height="4.11" fill="#3d67f5"/>
<rect x="426.50" y="108.72" width="6.07" height="4.11" fill="#2693ee"/>
<rect x="431.98" y="108.72" width="6.07" height="4.11" fill="#2693ee"/>
<rect x="437.45" y="108.72" width="6.07" height="4.11" fill="#219ae8"/>
<rect x="442.93" y="108.72" width="6.07" height="4.11" fill="#4655f4"/>
<rect x="448.40" y="108.72" width="6.07" height="4.11" fill="#77c763"/>
<rect x="453.88" y="108.72" width="6.07" height="4.11" fill="#92c74d"/>
<rect x="459.35" y="108.72" width="6.07" height="4.11" fill="#adc739"/>
<rect x="464.82" y="108.72" width="6.07" height="4.11" fill="#77c763"/>
<rect x="470.30" y="108.72" width="6.07" height="4.11" fill="#4655f4"/>
<rect x="475.77" y="108.72" width="6.07" height="4.11" fill="#3e26a8"/>
<rect x="481.25" y="108.72" width="6.07" height="4.11" fill="#4655f4"/>
<rect x="486.73" y="108.72" width="6.07" height="4.11" fill="#2b8bf4"/>
<rect x="492.20" y="108.72" width="6.07" height="4.11" fill="#2b8bf4"/>
<rect x="497.67" y="108.72" width="6.07" height="4.11" fill="#347af6"/>
<rect x="503.15" y="108.72" width="6.07" height="4.11" fill="#347af6"/>
<rect x="508.62" y="108.72" width="6.07" height="4.11" fill="#347af6"/>
<rect x="514.10" y="108.72" width="6.07" height="4.11" fill="#fac338"/>
<rect x="519.58" y="108.72" width="6.07" height="4.11" fill="#d3c538"/>
<rect x="525.05" y="108.72" width="6.07" height="4.11" fill="#d3c538"/>
<rect x="530.52" y="108.72" width="5.47" height="4.11" fill="#d3c538"/>
<rect x="317.00" y="112.23" width="6.07" height="4.11" fill="#219ae8"/>
<rect x="322.48" y="112.23" width="6.07" height="4.11" fill="#24bdb7"/>
<rect x="327.95" y="112.23" width="6.07" height="4.11" fill="#24bdb7"/>
<rect x="333.43" y="112.23" width="6.07" height="4.11" fill="#2b8bf4"/>
<rect x="338.90" y="112.23" width="6.07" height="4.11" fill="#4655f4"/>
<rect x="344.38" y="112.23" width="6.07" height="4.11" fill="#31c5a0"/>
<rect x="349.85" y="112.23" width="6.07" height="4.11" fill="#31c5a0"/>
<rect x="355.32" y="112.23" width="6.07" height="4.11" fill="#24bdb7"/>
<rect x="360.80" y="112.23" width="6.07" height="4.11" fill="#24bdb7"/>
<rect x="366.27" y="112.23" width="6.07" height="4.11" fill="#24bdb7"/>
<rect x="371.75" y="112.23" width="6.07" height="4.11" fill="#219ae8"/>
<rect x="377.23" y="112.23" width="6.07" height="4.11" fill="#31c5a0"/>
<rect x="382.70" y="112.23" width="6.07" height="4.11" fill="#31c5a0"/>
<rect x="388.18" y="112.23" width="6.07" height="4.11" fill="#fac338"/>
<rect x="393.65" y="112.23" width="6.07" height="4.11" fill="#fac338"/>
<rect x="399.12" y="112.23" width="6.07" height="4.11" fill="#77c763"/>
<rect x="404.60" y="112.23" width="6.07" height="4.11" fill="#24bdb7"/>
<rect x="410.07" y="112.23" width="6.07" height="4.11" fill="#24bdb7"/>
<rect x="415.55" y="112.23" width="6.07" height="4.11" fill="#24bdb7"/>
<rect x="421.02" y="112.23" width="6.07" height="4.11" fill="#3d67f5"/>
<rect x="426.50" y="112.23" width="6.07" height="4.11" fill="#3d67f5"/>
<rect x="431.98" y="112.23" width="6.07" height="4.11" fill="#3d67f5"/>
<rect x="437.45" y="112.23" width="6.07" height="4.11" fill="#3d67f5"/>
<rect x="442.93" y="112.23" width="6.07" height="4.11" fill="#3d67f5"/>
<rect x="448.40" y="112.23" width="6.07" height="4.11" fill="#adc739"/>
<rect x="453.88" y="112.23" width="6.07" height="4.11" fill="#adc739"/>
<rect x="459.35" y="112.23" width="6.07" height="4.11" fill="#adc739"/>
<rect x="464.82" y="112.23" width="6.07" height="4.11" fill="#77c763"/>
<rect x="470.30" y="112.23" width="6.07" height="4.11" fill="#4655f4"/>
<rect x="475.77" y="112.23" width="6.07" height="4.11" fill="#4655f4"/>
<rect x="481.25" y="112.23" width="6.07" height="4.11" fill="#3e26a8"/>
<rect x="486.73" y="112.23" width="6.07" height="4.11" fill="#425ef5"/>
<rect x="492.20" y="112.23" width="6.07" height="4.11" fill="#425ef5"/>
<rect x="497.67" y="112.23" width="6.07" height="4.11" fill="#425ef5"/>
<rect x="503.15" y="112.23" width="6.07" height="4.11" fill="#3d67f5"/>
<rect x="508.62" y="112.23" width="6.07" height="4.11" fill="#17a9dd"/>
<rect x="514.10" y="112.23" width="6.07" height="4.11" fill="#fac338"/>
<rect x="519.58" y="112.23" width="6.07" height="4.11" fill="#77c763"/>
<rect x="525.05" y="112.23" width="6.07" height="4.11" fill="#77c763"/>
<rect x="530.52" y="112.23" width="5.47" height="4.11" fill="#77c763"/>
<rect x="317.00" y="115.73" width="6.07" height="4.11" fill="#2b8bf4"/>
<rect x="322.48" y="115.73" width="6.07" height="4.11" fill="#17b5cd"/>
<rect x="327.95" y="115.73" width="6.07" height="4.11" fill="#219ae8"/>
<rect x="333.43" y="115.73" width="6.07" height="4.11" fill="#347af6"/>
<rect x="338.90" y="115.73" width="6.07" height="4.11" fill="#4655f4"/>
<rect x="344.38" y="115.73" width="6.07" height="4.11" fill="#adc739"/>
<rect x="349.85" y="115.73" width="6.07" height="4.11" fill="#77c763"/>
<rect x="355.32" y="115.73" width="6.07" height="4.11" fill="#4ec884"/>
<rect x="360.80" y="115.73" width="6.07" height="4.11" fill="#4ec884"/>
<rect x="366.27" y="115.73" width="6.07" height="4.11" fill="#3ac895"/>
<rect x="371.75" y="115.73" width="6.07" height="4.11" fill="#219ae8"/>
<rect x="377.23" y="115.73" width="6.07" height="4.11" fill="#4ec884"/>
<rect x="382.70" y="115.73" width="6.07" height="4.11" fill="#77c763"/>
<rect x="388.18" y="115.73" width="6.07" height="4.11" fill="#fdcf31"/>
<rect x="393.65" y="115.73" width="6.07" height="4.11" fill="#fdcf31"/>
<rect x="399.12" y="115.73" width="6.07" height="4.11" fill="#d3c538"/>
<rect x="404.60" y="115.73" width="6.07" height="4.11" fill="#4ec884"/>
<rect x="410.07" y="115.73" width="6.07" height="4.11" fill="#4ec884"/>
<rect x="415.55" y="115.73" width="6.07" height="4.11" fill="#31c5a0"/>
<rect x="421.02" y="115.73" width="6.07" height="4.11" fill="#347af6"/>
<rect x="426.50" y="115.73" width="6.07" height="4.11" fill="#464deb"/>
<rect x="431.98" y="115.73" width="6.07" height="4.11" fill="#464deb"/>
<rect x="437.45" y="115.73" width="6.07" height="4.11" fill="#464deb"/>
<rect x="442.93" y="115.73" width="6.07" height="4.11" fill="#219ae8"/>
<rect x="448.40" y="115.73" width="6.07" height="4.11" fill="#fac338"/>
<rect x="453.88" y="115.73" width="6.07" height="4.11" fill="#adc739"/>
<rect x="459.35" y="115.73" width="6.07" height="4.11" fill="#adc739"/>
<rect x="464.82" y="115.73" width="6.07" height="4.11" fill="#77c763"/>
<rect x="470.30" y="115.73" width="6.07" height="4.11" fill="#2b8bf4"/>
<rect x="475.77" y="115.73" width="6.07" height="4.11" fill="#2b8bf4"/>
<rect x="481.25" y="115.73" width="6.07" height="4.11" fill="#425ef5"/>
<rect x="486.73" y="115.73" width="6.07" height="4.11" fill="#3e26a8"/>
<rect x="492.20" y="115.73" width="6.07" height="4.11" fill="#4545dd"/>
<rect x="497.67" y="115.73" width="6.07" height="4.11" fill="#4545dd"/>
<rect x="503.15" y="115.73" width="6.07" height="4.11" fill="#4545dd"/>
<rect x="508.62" y="115.73" width="6.07" height="4.11" fill="#17a9dd"/>
<rect x="514.10" y="115.73" width="6.07" height="4.11" fill="#92c74d"/>
<rect x="519.58" y="115.73" width="6.07" height="4.11" fill="#31c5a0"/>
<rect x="525.05" y="115.73" width="6.07" height="4.11" fill="#31c5a0"/>
<rect x="530.52" y="115.73" width="5.47" height="4.11" fill="#31c5a0"/>
<rect x="317.00" y="119.24" width="6.07" height="4.11" fill="#2b8bf4"/>
<rect x="322.48" y="119.24" width="6.07" height="4.11" fill="#17b5cd"/>
<rect x="327.95" y="119.24" width="6.07" height="4.11" fill="#219ae8"/>
<rect x="333.43" y="119.24" width="6.07" height="4.11" fill="#347af6"/>
<rect x="338.90" y="119.24" width="6.07" height="4.11" fill="#464deb"/>
<rect x="344.38" y="119.24" width="6.07" height="4.11" fill="#4ec884"/>
<rect x="349.85" y="119.24" width="6.07" height="4.11" fill="#4ec884"/>
<rect x="355.32" y="119.24" width="6.07" height="4.11" fill="#31c5a0"/>
<rect x="360.80" y="119.24" width="6.07" height="4.11" fill="#31c5a0"/>
<rect x="366.27" y="119.24" width="6.07" height="4.11" fill="#31c5a0"/>
<rect x="371.75" y="119.24" width="6.07" height="4.11" fill="#219ae8"/>
<rect x="377.23" y="119.24" width="6.07" height="4.11" fill="#31c5a0"/>
<rect x="382.70" y="119.24" width="6.07" height="4.11" fill="#31c5a0"/>
<rect x="388.18" y="119.24" width="6.07" height="4.11" fill="#fac338"/>
<rect x="393.65" y="119.24" width="6.07" height="4.11" fill="#fac338"/>
<rect x="399.12" y="119.24" width="6.07" height="4.11" fill="#77c763"/>
<rect x="404.60" y="119.24" width="6.07" height="4.11" fill="#4ec884"/>
<rect x="410.07" y="119.24" width="6.07" height="4.11" fill="#4ec884"/>
<rect x="415.55" y="119.24" width="6.07" height="4.11" fill="#31c5a0"/>
<rect x="421.02" y="119.24" width="6.07" height="4.11" fill="#347af6"/>
<rect x="426.50" y="119.24" width="6.07" height="4.11" fill="#464deb"/>
<rect x="431.98" y="119.24" width="6.07" height="4.11" fill="#464deb"/>
<rect x="437.45" y="119.24" width="6.07" height="4.11" fill="#464deb"/>
<rect x="442.93" y="119.24" width="6.07" height="4.11" fill="#219ae8"/>
<rect x="448.40" y="119.24" width="6.07" height="4.11" fill="#77c763"/>
<rect x="453.88" y="119.24" width="6.07" height="4.11" fill="#77c763"/>
<rect x="459.35" y="119.24" width="6.07" height="4.11" fill="#77c763"/>
<rect x="464.82" y="119.24" width="6.07" height="4.11" fill="#4ec884"/>
<rect x="470.30" y="119.24" width="6.07" height="4.11" fill="#2b8bf4"/>
<rect x="475.77" y="119.24" width="6.07" height="4.11" fill="#2b8bf4"/>
<rect x="481.25" y="119.24" width="6.07" height="4.11" fill="#425ef5"/>
<rect x="486.73" y="119.24" width="6.07" height="4.11" fill="#4545dd"/>
<rect x="492.20" y="119.24" width="6.07" height="4.11" fill="#3e26a8"/>
<rect x="497.67" y="119.24" width="6.07" height="4.11" fill="#4545dd"/>
<rect x="503.15" y="119.24" width="6.07" height="4.11" fill="#4545dd"/>
<rect x="508.62" y="119.24" width="6.07" height="4.11" fill="#17a9dd"/>
<rect x="514.10" y="119.24" width="6.07" height="4.11" fill="#92c74d"/>
<rect x="519.58" y="119.24" width="6.07" height="4.11" fill="#31c5a0"/>
<rect x="525.05" y="119.24" width="6.07" height="4.11" fill="#31c5a0"/>
<rect x="530.52" y="119.24" width="5.47" height="4.11" fill="#31c5a0"/>
<rect x="317.00" y="122.75" width="6.07" height="4.11" fill="#2b8bf4"/>
<rect x="322.48" y="122.75" width="6.07" height="4.11" fill="#17b5cd"/>
<rect x="327.95" y="122.75" width="6.07" height="4.11" fill="#17a9dd"/>
<rect x="333.43" y="122.75" width="6.07" height="4.11" fill="#347af6"/>
<rect x="338.90" y="122.75" width="6.07" height="4.11" fill="#464deb"/>
<rect x="344.38" y="122.75" width="6.07" height="4.11" fill="#4ec884"/>
<rect x="349.85" y="122.75" width="6.07" height="4.11" fill="#31c5a0"/>
<rect x="355.32" y="122.75" width="6.07" height="4.11" fill="#31c5a0"/>
<rect x="360.80" y="122.75" width="6.07" height="4.11" fill="#31c5a0"/>
<rect x="366.27" y="122.75" width="6.07" height="4.11" fill="#2bc1ac"/>
<rect x="371.75" y="122.75" width="6.07" height="4.11" fill="#219ae8"/>
<rect x="377.23" y="122.75" width="6.07" height="4.11" fill="#31c5a0"/>
<rect x="382.70" y="122.75" width="6.07" height="4.11" fill="#31c5a0"/>
<rect x="388.18" y="122.75" width="6.07" height="4.11" fill="#fac338"/>
<rect x="393.65" y="122.75" width="6.07" height="4.11" fill="#fac338"/>
<rect x="399.12" y="122.75" width="6.07" height="4.11" fill="#77c763"/>
<rect x="404.60" y="122.75" width="6.07" height="4.11" fill="#31c5a0"/>
<rect x="410.07" y="122.75" width="6.07" height="4.11" fill="#31c5a0"/>
<rect x="415.55" y="122.75" width="6.07" height="4.11" fill="#24bdb7"/>
<rect x="421.02" y="122.75" width="6.07" height="4.11" fill="#347af6"/>
<rect x="426.50" y="122.75" width="6.07" height="4.11" fill="#464deb"/>
<rect x="431.98" y="122.75" width="6.07" height="4.11" fill="#464deb"/>
<rect x="437.45" y="122.75" width="6.07" height="4.11" fill="#464deb"/>
<rect x="442.93" y="122.75" width="6.07" height="4.11" fill="#219ae8"/>
<rect x="448.40" y="122.75" width="6.07" height="4.11" fill="#77c763"/>
<rect x="453.88" y="122.75" width="6.07" height="4.11" fill="#77c763"/>
<rect x="459.35" y="122.75" width="6.07" height="4.11" fill="#77c763"/>
<rect x="464.82" y="122.75" width="6.07" height="4.11" fill="#4ec884"/>
<rect x="470.30" y="122.75" width="6.07" height="4.11" fill="#2b8bf4"/>
<rect x="475.77" y="122.75" width="6.07" height="4.11" fill="#347af6"/>
<rect x="481.25" y="122.75" width="6.07" height="4.11" fill="#425ef5"/>
<rect x="486.73" y="122.75" width="6.07" height="4.11" fill="#4545dd"/>
<rect x="492.20" y="122.75" width="6.07" height="4.11" fill="#4545dd"/>
<rect x="497.67" y="122.75" width="6.07" height="4.11" fill="#3e26a8"/>
<rect x="503.15" y="122.75" width="6.07" height="4.11" fill="#4545dd"/>
<rect x="508.62" y="122.75" width="6.07" height="4.11" fill="#17a9dd"/>
<rect x="514.10" y="122.75" width="6.07" height="4.11" fill="#77c763"/>
<rect x="519.58" y="122.75" width="6.07" height="4.11" fill="#31c5a0"/>
<rect x="525.05" y="122.75" width="6.07" height="4.11" fill="#31c5a0"/>
<rect x="530.52" y="122.75" width="5.47" height="4.11" fill="#31c5a0"/>
<rect x="317.00" y="126.26" width="6.07" height="4.11" fill="#347af6"/>
<rect x="322.48" y="126.26" width="6.07" height="4.11" fill="#17b5cd"/>
<rect x="327.95" y="126.26" width="6.07" height="4.11" fill="#219ae8"/>
<rect x="333.43" y="126.26" width="6.07" height="4.11" fill="#3d67f5"/>
<rect x="338.90" y="126.26" width="6.07" height="4.11" fill="#4545dd"/>
<rect x="344.38" y="126.26" width="6.07" height="4.11" fill="#31c5a0"/>
<rect x="349.85" y="126.26" width="6.07" height="4.11" fill="#24bdb7"/>
<rect x="355.32" y="126.26" width="6.07" height="4.11" fill="#24bdb7"/>
<rect x="360.80" y="126.26" width="6.07" height="4.11" fill="#24bdb7"/>
<rect x="366.27" y="126.26" width="6.07" height="4.11" fill="#1eb9c2"/>
<rect x="371.75" y="126.26" width="6.07" height="4.11" fill="#219ae8"/>
<rect x="377.23" y="126.26" width="6.07" height="4.11" fill="#31c5a0"/>
<rect x="382.70" y="126.26" width="6.07" height="4.11" fill="#31c5a0"/>
<rect x="388.18" y="126.26" width="6.07" height="4.11" fill="#d3c538"/>
<rect x="393.65" y="126.26" width="6.07" height="4.11" fill="#d3c538"/>
<rect x="399.12" y="126.26" width="6.07" height="4.11" fill="#77c763"/>
<rect x="404.60" y="126.26" width="6.07" height="4.11" fill="#31c5a0"/>
<rect x="410.07" y="126.26" width="6.07" height="4.11" fill="#31c5a0"/>
<rect x="415.55" y="126.26" width="6.07" height="4.11" fill="#24bdb7"/>
<rect x="421.02" y="126.26" width="6.07" height="4.11" fill="#347af6"/>
<rect x="426.50" y="126.26" width="6.07" height="4.11" fill="#3d67f5"/>
<rect x="431.98" y="126.26" width="6.07" height="4.11" fill="#3d67f5"/>
<rect x="437.45" y="126.26" width="6.07" height="4.11" fill="#3d67f5"/>
<rect x="442.93" y="126.26" width="6.07" height="4.11" fill="#219ae8"/>
<rect x="448.40" y="126.26" width="6.07" height="4.11" fill="#4ec884"/>
<rect x="453.88" y="126.26" width="6.07" height="4.11" fill="#4ec884"/>
<rect x="459.35" y="126.26" width="6.07" height="4.11" fill="#4ec884"/>
<rect x="464.82" y="126.26" width="6.07" height="4.11" fill="#31c5a0"/>
<rect x="470.30" y="126.26" width="6.07" height="4.11" fill="#347af6"/>
<rect x="475.77" y="126.26" width="6.07" height="4.11" fill="#347af6"/>
<rect x="481.25" y="126.26" width="6.07" height="4.11" fill="#3d67f5"/>
<rect x="486.73" y="126.26" width="6.07" height="4.11" fill="#4545dd"/>
<rect x="492.20" y="126.26" width="6.07" height="4.11" fill="#4545dd"/>
<rect x="497.67" y="126.26" width="6.07" height="4.11" fill="#4545dd"/>
<rect x="503.15" y="126.26" width="6.07" height="4.11" fill="#3e26a8"/>
<rect x="508.62" y="126.26" width="6.07" height="4.11" fill="#17a9dd"/>
<rect x="514.10" y="126.26" width="6.07" height="4.11" fill="#77c763"/>
<rect x="519.58" y="126.26" width="6.07" height="4.11" fill="#31c5a0"/>
<rect x="525.05" y="126.26" width="6.07" height="4.11" fill="#31c5a0"/>
<rect x="530.52" y="126.26" width="5.47" height="4.11" fill="#31c5a0"/>
<rect x="317.00" y="129.76" width="6.07" height="4.11" fill="#17a9dd"/>
<rect x="322.48" y="129.76" width="6.07" height="4.11" fill="#24bdb7"/>
<rect x="327.95" y="129.76" width="6.07" height="4.11" fill="#77c763"/>
<rect x="333.43" y="129.76" width="6.07" height="4.11" fill="#17a9dd"/>
<rect x="338.90" y="129.76" width="6.07" height="4.11" fill="#17b5cd"/>
<rect x="344.38" y="129.76" width="6.07" height="4.11" fill="#347af6"/>
<rect x="349.85" y="129.76" width="6.07" height="4.11" fill="#3d67f5"/>
<rect x="355.32" y="129.76" width="6.07" height="4.11" fill="#2b8bf4"/>
<rect x="360.80" y="129.76" width="6.07" height="4.11" fill="#2b8bf4"/>
<rect x="366.27" y="129.76" width="6.07" height="4.11" fill="#347af6"/>
<rect x="371.75" y="129.76" width="6.07" height="4.11" fill="#347af6"/>
<rect x="377.23" y="129.76" width="6.07" height="4.11" fill="#347af6"/>
<rect x="382.70" y="129.76" width="6.07" height="4.11" fill="#219ae8"/>
<rect x="388.18" y="129.76" width="6.07" height="4.11" fill="#17b5cd"/>
<rect x="393.65" y="129.76" width="6.07" height="4.11" fill="#17b5cd"/>
<rect x="399.12" y="129.76" width="6.07" height="4.11" fill="#17a9dd"/>
<rect x="404.60" y="129.76" width="6.07" height="4.11" fill="#2b8bf4"/>
<rect x="410.07" y="129.76" width="6.07" height="4.11" fill="#347af6"/>
<rect x="415.55" y="129.76" width="6.07" height="4.11" fill="#3d67f5"/>
<rect x="421.02" y="129.76" width="6.07" height="4.11" fill="#2b8bf4"/>
<rect x="426.50" y="129.76" width="6.07" height="4.11" fill="#24bdb7"/>
<rect x="431.98" y="129.76" width="6.07" height="4.11" fill="#24bdb7"/>
<rect x="437.45" y="129.76" width="6.07" height="4.11" fill="#24bdb7"/>
<rect x="442.93" y="129.76" width="6.07" height="4.11" fill="#219ae8"/>
<rect x="448.40" y="129.76" width="6.07" height="4.11" fill="#24bdb7"/>
<rect x="453.88" y="129.76" width="6.07" height="4.11" fill="#24bdb7"/>
<rect x="459.35" y="129.76" width="6.07" height="4.11" fill="#24bdb7"/>
<rect x="464.82" y="129.76" width="6.07" height="4.11" fill="#24bdb7"/>
<rect x="470.30" y="129.76" width="6.07" height="4.11" fill="#2b8bf4"/>
<rect x="475.77" y="129.76" width="6.07" height="4.11" fill="#347af6"/>
<rect x="481.25" y="129.76" width="6.07" height="4.11" fill="#17a9dd"/>
<rect x="486.73" y="129.76" width="6.07" height="4.11" fill="#17a9dd"/>
<rect x="492.20" y="129.76" width="6.07" height="4.11" fill="#17a9dd"/>
<rect x="497.67" y="129.76" width="6.07" height="4.11" fill="#17a9dd"/>
<rect x="503.15" y="129.76" width="6.07" height="4.11" fill="#17a9dd"/>
<rect x="508.62" y="129.76" width="6.07" height="4.11" fill="#3e26a8"/>
<rect x="514.10" y="129.76" width="6.07" height="4.11" fill="#77c763"/>
<rect x="519.58" y="129.76" width="6.07" height="4.11" fill="#77c763"/>
<rect x="525.05" y="129.76" width="6.07" height="4.11" fill="#4ec884"/>
<rect x="530.52" y="129.76" width="5.47" height="4.11" fill="#4ec884"/>
<rect x="317.00" y="133.27" width="6.07" height="4.11" fill="#17b5cd"/>
<rect x="322.48" y="133.27" width="6.07" height="4.11" fill="#347af6"/>
<rect x="327.95" y="133.27" width="6.07" height="4.11" fill="#24bdb7"/>
<rect x="333.43" y="133.27" width="6.07" height="4.11" fill="#17b5cd"/>
<rect x="338.90" y="133.27" width="6.07" height="4.11" fill="#4ec884"/>
<rect x="344.38" y="133.27" width="6.07" height="4.11" fill="#4ec884"/>
<rect x="349.85" y="133.27" width="6.07" height="4.11" fill="#4ec884"/>
<rect x="355.32" y="133.27" width="6.07" height="4.11" fill="#24bdb7"/>
<rect x="360.80" y="133.27" width="6.07" height="4.11" fill="#24bdb7"/>
<rect x="366.27" y="133.27" width="6.07" height="4.11" fill="#24bdb7"/>
<rect x="371.75" y="133.27" width="6.07" height="4.11" fill="#219ae8"/>
<rect x="377.23" y="133.27" width="6.07" height="4.11" fill="#24bdb7"/>
<rect x="382.70" y="133.27" width="6.07" height="4.11" fill="#24bdb7"/>
<rect x="388.18" y="133.27" width="6.07" height="4.11" fill="#31c5a0"/>
<rect x="393.65" y="133.27" width="6.07" height="4.11" fill="#77c763"/>
<rect x="399.12" y="133.27" width="6.07" height="4.11" fill="#31c5a0"/>
<rect x="404.60" y="133.27" width="6.07" height="4.11" fill="#faec1e"/>
<rect x="410.07" y="133.27" width="6.07" height="4.11" fill="#fac338"/>
<rect x="415.55" y="133.27" width="6.07" height="4.11" fill="#77c763"/>
<rect x="421.02" y="133.27" width="6.07" height="4.11" fill="#77c763"/>
<rect x="426.50" y="133.27" width="6.07" height="4.11" fill="#fac338"/>
<rect x="431.98" y="133.27" width="6.07" height="4.11" fill="#fac338"/>
<rect x="437.45" y="133.27" width="6.07" height="4.11" fill="#fdcf31"/>
<rect x="442.93" y="133.27" width="6.07" height="4.11" fill="#fdcf31"/>
<rect x="448.40" y="133.27" width="6.07" height="4.11" fill="#2b8bf4"/>
<rect x="453.88" y="133.27" width="6.07" height="4.11" fill="#3d67f5"/>
<rect x="459.35" y="133.27" width="6.07" height="4.11" fill="#3d67f5"/>
<rect x="464.82" y="133.27" width="6.07" height="4.11" fill="#3d67f5"/>
<rect x="470.30" y="133.27" width="6.07" height="4.11" fill="#fac338"/>
<rect x="475.77" y="133.27" width="6.07" height="4.11" fill="#fac338"/>
<rect x="481.25" y="133.27" width="6.07" height="4.11" fill="#fac338"/>
<rect x="486.73" y="133.27" width="6.07" height="4.11" fill="#92c74d"/>
<rect x="492.20" y="133.27" width="6.07" height="4.11" fill="#92c74d"/>
<rect x="497.67" y="133.27" width="6.07" height="4.11" fill="#77c763"/>
<rect x="503.15" y="133.27" width="6.07" height="4.11" fill="#77c763"/>
<rect x="508.62" y="133.27" width="6.07" height="4.11" fill="#77c763"/>
<rect x="514.10" y="133.27" width="6.07" height="4.11" fill="#3e26a8"/>
<rect x="519.58" y="133.27" width="6.07" height="4.11" fill="#347af6"/>
<rect x="525.05" y="133.27" width="6.07" height="4.11" fill="#3d67f5"/>
<rect x="530.52" y="133.27" width="5.47" height="4.11" fill="#3d67f5"/>
<rect x="317.00" y="136.78" width="6.07" height="4.11" fill="#219ae8"/>
<rect x="322.48" y="136.78" width="6.07" height="4.11" fill="#347af6"/>
<rect x="327.95" y="136.78" width="6.07" height="4.11" fill="#347af6"/>
<rect x="333.43" y="136.78" width="6.07" height="4.11" fill="#17a9dd"/>
<rect x="338.90" y="136.78" width="6.07" height="4.11" fill="#24bdb7"/>
<rect x="344.38" y="136.78" width="6.07" height="4.11" fill="#fec835"/>
<rect x="349.85" y="136.78" width="6.07" height="4.11" fill="#adc739"/>
<rect x="355.32" y="136.78" width="6.07" height="4.11" fill="#4ec884"/>
<rect x="360.80" y="136.78" width="6.07" height="4.11" fill="#3ac895"/>
<rect x="366.27" y="136.78" width="6.07" height="4.11" fill="#31c5a0"/>
<rect x="371.75" y="136.78" width="6.07" height="4.11" fill="#219ae8"/>
<rect x="377.23" y="136.78" width="6.07" height="4.11" fill="#4ec884"/>
<rect x="382.70" y="136.78" width="6.07" height="4.11" fill="#4ec884"/>
<rect x="388.18" y="136.78" width="6.07" height="4.11" fill="#4ec884"/>
<rect x="393.65" y="136.78" width="6.07" height="4.11" fill="#fac338"/>
<rect x="399.12" y="136.78" width="6.07" height="4.11" fill="#77c763"/>
<rect x="404.60" y="136.78" width="6.07" height="4.11" fill="#f9fb15"/>
<rect x="410.07" y="136.78" width="6.07" height="4.11" fill="#fac338"/>
<rect x="415.55" y="136.78" width="6.07" height="4.11" fill="#77c763"/>
<rect x="421.02" y="136.78" width="6.07" height="4.11" fill="#31c5a0"/>
<rect x="426.50" y="136.78" width="6.07" height="4.11" fill="#4ec884"/>
<rect x="431.98" y="136.78" width="6.07" height="4.11" fill="#77c763"/>
<rect x="437.45" y="136.78" width="6.07" height="4.11" fill="#adc739"/>
<rect x="442.93" y="136.78" width="6.07" height="4.11" fill="#fac338"/>
<rect x="448.40" y="136.78" width="6.07" height="4.11" fill="#17b5cd"/>
<rect x="453.88" y="136.78" width="6.07" height="4.11" fill="#219ae8"/>
<rect x="459.35" y="136.78" width="6.07" height="4.11" fill="#219ae8"/>
<rect x="464.82" y="136.78" width="6.07" height="4.11" fill="#219ae8"/>
<rect x="470.30" y="136.78" width="6.07" height="4.11" fill="#d3c538"/>
<rect x="475.77" y="136.78" width="6.07" height="4.11" fill="#d3c538"/>
<rect x="481.25" y="136.78" width="6.07" height="4.11" fill="#77c763"/>
<rect x="486.73" y="136.78" width="6.07" height="4.11" fill="#31c5a0"/>
<rect x="492.20" y="136.78" width="6.07" height="4.11" fill="#31c5a0"/>
<rect x="497.67" y="136.78" width="6.07" height="4.11" fill="#31c5a0"/>
<rect x="503.15" y="136.78" width="6.07" height="4.11" fill="#31c5a0"/>
<rect x="508.62" y="136.78" width="6.07" height="4.11" fill="#77c763"/>
<rect x="514.10" y="136.78" width="6.07" height="4.11" fill="#347af6"/>
<rect x="519.58" y="136.78" width="6.07" height="4.11" fill="#3e26a8"/>
<rect x="525.05" y="136.78" width="6.07" height="4.11" fill="#347af6"/>
<rect x="530.52" y="136.78" width="5.47" height="4.11" fill="#347af6"/>
<rect x="317.00" y="140.29" width="6.07" height="4.11" fill="#219ae8"/>
<rect x="322.48" y="140.29" width="6.07" height="4.11" fill="#347af6"/>
<rect x="327.95" y="140.29" width="6.07" height="4.11" fill="#17a9dd"/>
<rect x="333.43" y="140.29" width="6.07" height="4.11" fill="#17a9dd"/>
<rect x="338.90" y="140.29" width="6.07" height="4.11" fill="#24bdb7"/>
<rect x="344.38" y="140.29" width="6.07" height="4.11" fill="#77c763"/>
<rect x="349.85" y="140.29" width="6.07" height="4.11" fill="#31c5a0"/>
<rect x="355.32" y="140.29" width="6.07" height="4.11" fill="#24bdb7"/>
<rect x="360.80" y="140.29" width="6.07" height="4.11" fill="#24bdb7"/>
<rect x="366.27" y="140.29" width="6.07" height="4.11" fill="#24bdb7"/>
<rect x="371.75" y="140.29" width="6.07" height="4.11" fill="#219ae8"/>
<rect x="377.23" y="140.29" width="6.07" height="4.11" fill="#31c5a0"/>
<rect x="382.70" y="140.29" width="6.07" height="4.11" fill="#31c5a0"/>
<rect x="388.18" y="140.29" width="6.07" height="4.11" fill="#4ec884"/>
<rect x="393.65" y="140.29" width="6.07" height="4.11" fill="#adc739"/>
<rect x="399.12" y="140.29" width="6.07" height="4.11" fill="#4ec884"/>
<rect x="404.60" y="140.29" width="6.07" height="4.11" fill="#faec1e"/>
<rect x="410.07" y="140.29" width="6.07" height="4.11" fill="#fac338"/>
<rect x="415.55" y="140.29" width="6.07" height="4.11" fill="#4ec884"/>
<rect x="421.02" y="140.29" width="6.07" height="4.11" fill="#31c5a0"/>
<rect x="426.50" y="140.29" width="6.07" height="4.11" fill="#4ec884"/>
<rect x="431.98" y="140.29" width="6.07" height="4.11" fill="#77c763"/>
<rect x="437.45" y="140.29" width="6.07" height="4.11" fill="#adc739"/>
<rect x="442.93" y="140.29" width="6.07" height="4.11" fill="#fac338"/>
<rect x="448.40" y="140.29" width="6.07" height="4.11" fill="#219ae8"/>
<rect x="453.88" y="140.29" width="6.07" height="4.11" fill="#347af6"/>
<rect x="459.35" y="140.29" width="6.07" height="4.11" fill="#347af6"/>
<rect x="464.82" y="140.29" width="6.07" height="4.11" fill="#2b8bf4"/>
<rect x="470.30" y="140.29" width="6.07" height="4.11" fill="#d3c538"/>
<rect x="475.77" y="140.29" width="6.07" height="4.11" fill="#d3c538"/>
<rect x="481.25" y="140.29" width="6.07" height="4.11" fill="#77c763"/>
<rect x="486.73" y="140.29" width="6.07" height="4.11" fill="#31c5a0"/>
<rect x="492.20" y="140.29" width="6.07" height="4.11" fill="#31c5a0"/>
<rect x="497.67" y="140.29" width="6.07" height="4.11" fill="#31c5a0"/>
<rect x="503.15" y="140.29" width="6.07" height="4.11" fill="#31c5a0"/>
<rect x="508.62" y="140.29" width="6.07" height="4.11" fill="#4ec884"/>
<rect x="514.10" y="140.29" width="6.07" height="4.11" fill="#3d67f5"/>
<rect x="519.58" y="140.29" width="6.07" height="4.11" fill="#347af6"/>
<rect x="525.05" y="140.29" width="6.07" height="4.11" fill="#3e26a8"/>
<rect x="530.52" y="140.29" width="5.47" height="4.11" fill="#4655f4"/>
<rect x="317.00" y="143.79" width="6.07" height="3.51" fill="#219ae8"/>
<rect x="322.48" y="143.79" width="6.07" height="3.51" fill="#347af6"/>
<rect x="327.95" y="143.79" width="6.07" height="3.51" fill="#17a9dd"/>
<rect x="333.43" y="143.79" width="6.07" height="3.51" fill="#17a9dd"/>
<rect x="338.90" y="143.79" width="6.07" height="3.51" fill="#24bdb7"/>
<rect x="344.38" y="143.79" width="6.07" height="3.51" fill="#31c5a0"/>
<rect x="349.85" y="143.79" width="6.07" height="3.51" fill="#24bdb7"/>
<rect x="355.32" y="143.79" width="6.07" height="3.51" fill="#24bdb7"/>
<rect x="360.80" y="143.79" width="6.07" height="3.51" fill="#24bdb7"/>
<rect x="366.27" y="143.79" width="6.07" height="3.51" fill="#24bdb7"/>
<rect x="371.75" y="143.79" width="6.07" height="3.51" fill="#219ae8"/>
<rect x="377.23" y="143.79" width="6.07" height="3.51" fill="#24bdb7"/>
<rect x="382.70" y="143.79" width="6.07" height="3.51" fill="#31c5a0"/>
<rect x="388.18" y="143.79" width="6.07" height="3.51" fill="#31c5a0"/>
<rect x="393.65" y="143.79" width="6.07" height="3.51" fill="#77c763"/>
<rect x="399.12" y="143.79" width="6.07" height="3.51" fill="#4ec884"/>
<rect x="404.60" y="143.79" width="6.07" height="3.51" fill="#fcde27"/>
<rect x="410.07" y="143.79" width="6.07" height="3.51" fill="#fac338"/>
<rect x="415.55" y="143.79" width="6.07" height="3.51" fill="#4ec884"/>
<rect x="421.02" y="143.79" width="6.07" height="3.51" fill="#31c5a0"/>
<rect x="426.50" y="143.79" width="6.07" height="3.51" fill="#31c5a0"/>
<rect x="431.98" y="143.79" width="6.07" height="3.51" fill="#4ec884"/>
<rect x="437.45" y="143.79" width="6.07" height="3.51" fill="#77c763"/>
<rect x="442.93" y="143.79" width="6.07" height="3.51" fill="#fac338"/>
<rect x="448.40" y="143.79" width="6.07" height="3.51" fill="#219ae8"/>
<rect x="453.88" y="143.79" width="6.07" height="3.51" fill="#2b8bf4"/>
<rect x="459.35" y="143.79" width="6.07" height="3.51" fill="#2b8bf4"/>
<rect x="464.82" y="143.79" width="6.07" height="3.51" fill="#2b8bf4"/>
<rect x="470.30" y="143.79" width="6.07" height="3.51" fill="#d3c538"/>
<rect x="475.77" y="143.79" width="6.07" height="3.51" fill="#d3c538"/>
<rect x="481.25" y="143.79" width="6.07" height="3.51" fill="#77c763"/>
<rect x="486.73" y="143.79" width="6.07" height="3.51" fill="#31c5a0"/>
<rect x="492.20" y="143.79" width="6.07" height="3.51" fill="#31c5a0"/>
<rect x="497.67" y="143.79" width="6.07" height="3.51" fill="#31c5a0"/>
<rect x="503.15" y="143.79" width="6.07" height="3.51" fill="#31c5a0"/>
<rect x="508.62" y="143.79" width="6.07" height="3.51" fill="#4ec884"/>
<rect x="514.10" y="143.79" width="6.07" height="3.51" fill="#3d67f5"/>
<rect x="519.58" y="143.79" width="6.07" height="3.51" fill="#347af6"/>
<rect x="525.05" y="143.79" width="6.07" height="3.51" fill="#4655f4"/>
<rect x="530.52" y="143.79" width="5.47" height="3.51" fill="#3e26a8"/>
</g>
<line x1="369.01" y1="147.3" x2="369.01" y2="145.10000000000002" stroke="#222" stroke-width="0.6" stroke-opacity="0.6"/>
<line x1="369.01" y1="7" x2="369.01" y2="9.2" stroke="#222" stroke-width="0.6" stroke-opacity="0.6"/>
<line x1="423.76" y1="147.3" x2="423.76" y2="145.10000000000002" stroke="#222" stroke-width="0.6" stroke-opacity="0.6"/>
<line x1="423.76" y1="7" x2="423.76" y2="9.2" stroke="#222" stroke-width="0.6" stroke-opacity="0.6"/>
<line x1="478.51" y1="147.3" x2="478.51" y2="145.10000000000002" stroke="#222" stroke-width="0.6" stroke-opacity="0.6"/>
<line x1="478.51" y1="7" x2="478.51" y2="9.2" stroke="#222" stroke-width="0.6" stroke-opacity="0.6"/>
<line x1="533.26" y1="147.3" x2="533.26" y2="145.10000000000002" stroke="#222" stroke-width="0.6" stroke-opacity="0.6"/>
<line x1="533.26" y1="7" x2="533.26" y2="9.2" stroke="#222" stroke-width="0.6" stroke-opacity="0.6"/>
<line x1="317" y1="40.32" x2="319.2" y2="40.32" stroke="#222" stroke-width="0.6" stroke-opacity="0.6"/>
<line x1="536" y1="40.32" x2="533.8" y2="40.32" stroke="#222" stroke-width="0.6" stroke-opacity="0.6"/>
<line x1="317" y1="75.40" x2="319.2" y2="75.40" stroke="#222" stroke-width="0.6" stroke-opacity="0.6"/>
<line x1="536" y1="75.40" x2="533.8" y2="75.40" stroke="#222" stroke-width="0.6" stroke-opacity="0.6"/>
<line x1="317" y1="110.47" x2="319.2" y2="110.47" stroke="#222" stroke-width="0.6" stroke-opacity="0.6"/>
<line x1="536" y1="110.47" x2="533.8" y2="110.47" stroke="#222" stroke-width="0.6" stroke-opacity="0.6"/>
<line x1="317" y1="145.55" x2="319.2" y2="145.55" stroke="#222" stroke-width="0.6" stroke-opacity="0.6"/>
<line x1="536" y1="145.55" x2="533.8" y2="145.55" stroke="#222" stroke-width="0.6" stroke-opacity="0.6"/>
<text transform="translate(369.01 160.20) scale(1.0 1.0)" font-size="9.8" font-weight="bold" text-anchor="middle" fill="#000">10</text>
<text transform="translate(423.76 160.20) scale(1.0 1.0)" font-size="9.8" font-weight="bold" text-anchor="middle" fill="#000">20</text>
<text transform="translate(478.51 160.20) scale(1.0 1.0)" font-size="9.8" font-weight="bold" text-anchor="middle" fill="#000">30</text>
<text transform="translate(533.26 160.20) scale(1.0 1.0)" font-size="9.8" font-weight="bold" text-anchor="middle" fill="#000">40</text>
<text transform="translate(313.80 43.92) scale(1.0 1.0)" font-size="9.8" font-weight="bold" text-anchor="end" fill="#000">10</text>
<text transform="translate(313.80 79.00) scale(1.0 1.0)" font-size="9.8" font-weight="bold" text-anchor="end" fill="#000">20</text>
<text transform="translate(313.80 114.07) scale(1.0 1.0)" font-size="9.8" font-weight="bold" text-anchor="end" fill="#000">30</text>
<text transform="translate(313.80 149.15) scale(1.0 1.0)" font-size="9.8" font-weight="bold" text-anchor="end" fill="#000">40</text>
<text transform="translate(426.50 174.00) scale(1.0 1.05)" font-size="11.0" font-weight="bold" text-anchor="middle" fill="#000">No. of Generations</text>
<text transform="translate(426.50 186.80) scale(1.0 1.0)" font-size="10.5" font-weight="normal" text-anchor="middle" fill="#000" stroke="#000" stroke-width="0.35">(b)</text>
<text transform="translate(298.40 77.15) rotate(-90) scale(1.0 1.05)" font-size="11.0" font-weight="bold" text-anchor="middle" fill="#000">Fitness Value</text>
<line x1="361.18" y1="202.2" x2="361.18" y2="342.1" stroke="#ebebeb" stroke-width="0.8"/>
<line x1="404.76" y1="202.2" x2="404.76" y2="342.1" stroke="#ebebeb" stroke-width="0.8"/>
<line x1="448.34" y1="202.2" x2="448.34" y2="342.1" stroke="#ebebeb" stroke-width="0.8"/>
<line x1="491.92" y1="202.2" x2="491.92" y2="342.1" stroke="#ebebeb" stroke-width="0.8"/>
<line x1="317.6" y1="308.53" x2="535.5" y2="308.53" stroke="#ebebeb" stroke-width="0.8"/>
<line x1="317.6" y1="274.96" x2="535.5" y2="274.96" stroke="#ebebeb" stroke-width="0.8"/>
<line x1="317.6" y1="241.39" x2="535.5" y2="241.39" stroke="#ebebeb" stroke-width="0.8"/>
<line x1="317.6" y1="207.82" x2="535.5" y2="207.82" stroke="#ebebeb" stroke-width="0.8"/>
<polyline points="317.7,215.0 317.9,230.0 318.2,242.0 318.9,246.2 320.4,251.6 321.9,254.6 324.2,257.0 325.0,263.1 326.1,263.9 326.6,268.5 327.3,269.3 337.4,269.3 338.1,270.8 342.0,272.0 344.3,273.1 345.8,275.5 347.7,276.2 348.9,278.5 355.1,279.0 358.2,279.8 360.5,280.4 383.2,280.4 383.6,285.2 394.5,285.3 397.5,287.5 429.5,287.7 430.9,288.5 446.2,288.6 447.2,290.0 535.5,290.0" fill="none" stroke="#0000ff" stroke-width="1.7" stroke-linejoin="round"/>
<rect x="317.6" y="202.2" width="217.89999999999998" height="139.90000000000003" fill="none" stroke="#b4b4b4" stroke-width="0.9"/>
<line x1="317.60" y1="342.1" x2="317.60" y2="339.90000000000003" stroke="#9a9a9a" stroke-width="0.8"/>
<line x1="317.60" y1="202.2" x2="317.60" y2="204.39999999999998" stroke="#9a9a9a" stroke-width="0.8"/>
<line x1="361.18" y1="342.1" x2="361.18" y2="339.90000000000003" stroke="#9a9a9a" stroke-width="0.8"/>
<line x1="361.18" y1="202.2" x2="361.18" y2="204.39999999999998" stroke="#9a9a9a" stroke-width="0.8"/>
<line x1="404.76" y1="342.1" x2="404.76" y2="339.90000000000003" stroke="#9a9a9a" stroke-width="0.8"/>
<line x1="404.76" y1="202.2" x2="404.76" y2="204.39999999999998" stroke="#9a9a9a" stroke-width="0.8"/>
<line x1="448.34" y1="342.1" x2="448.34" y2="339.90000000000003" stroke="#9a9a9a" stroke-width="0.8"/>
<line x1="448.34" y1="202.2" x2="448.34" y2="204.39999999999998" stroke="#9a9a9a" stroke-width="0.8"/>
<line x1="491.92" y1="342.1" x2="491.92" y2="339.90000000000003" stroke="#9a9a9a" stroke-width="0.8"/>
<line x1="491.92" y1="202.2" x2="491.92" y2="204.39999999999998" stroke="#9a9a9a" stroke-width="0.8"/>
<line x1="535.50" y1="342.1" x2="535.50" y2="339.90000000000003" stroke="#9a9a9a" stroke-width="0.8"/>
<line x1="535.50" y1="202.2" x2="535.50" y2="204.39999999999998" stroke="#9a9a9a" stroke-width="0.8"/>
<line x1="317.6" y1="342.10" x2="319.8" y2="342.10" stroke="#9a9a9a" stroke-width="0.8"/>
<line x1="535.5" y1="342.10" x2="533.3" y2="342.10" stroke="#9a9a9a" stroke-width="0.8"/>
<line x1="317.6" y1="308.53" x2="319.8" y2="308.53" stroke="#9a9a9a" stroke-width="0.8"/>
<line x1="535.5" y1="308.53" x2="533.3" y2="308.53" stroke="#9a9a9a" stroke-width="0.8"/>
<line x1="317.6" y1="274.96" x2="319.8" y2="274.96" stroke="#9a9a9a" stroke-width="0.8"/>
<line x1="535.5" y1="274.96" x2="533.3" y2="274.96" stroke="#9a9a9a" stroke-width="0.8"/>
<line x1="317.6" y1="241.39" x2="319.8" y2="241.39" stroke="#9a9a9a" stroke-width="0.8"/>
<line x1="535.5" y1="241.39" x2="533.3" y2="241.39" stroke="#9a9a9a" stroke-width="0.8"/>
<line x1="317.6" y1="207.82" x2="319.8" y2="207.82" stroke="#9a9a9a" stroke-width="0.8"/>
<line x1="535.5" y1="207.82" x2="533.3" y2="207.82" stroke="#9a9a9a" stroke-width="0.8"/>
<text transform="translate(317.60 354.90) scale(1.0 1.0)" font-size="9.8" font-weight="bold" text-anchor="middle" fill="#000">0</text>
<text transform="translate(361.18 354.90) scale(1.0 1.0)" font-size="9.8" font-weight="bold" text-anchor="middle" fill="#000">200</text>
<text transform="translate(404.76 354.90) scale(1.0 1.0)" font-size="9.8" font-weight="bold" text-anchor="middle" fill="#000">400</text>
<text transform="translate(448.34 354.90) scale(1.0 1.0)" font-size="9.8" font-weight="bold" text-anchor="middle" fill="#000">600</text>
<text transform="translate(491.92 354.90) scale(1.0 1.0)" font-size="9.8" font-weight="bold" text-anchor="middle" fill="#000">800</text>
<text transform="translate(535.50 354.90) scale(1.0 1.0)" font-size="9.8" font-weight="bold" text-anchor="middle" fill="#000">1000</text>
<text transform="translate(314.30 345.70) scale(1.0 1.0)" font-size="9.8" font-weight="bold" text-anchor="end" fill="#000">0</text>
<text transform="translate(314.30 312.13) scale(1.0 1.0)" font-size="9.8" font-weight="bold" text-anchor="end" fill="#000">10</text>
<text transform="translate(314.30 278.56) scale(1.0 1.0)" font-size="9.8" font-weight="bold" text-anchor="end" fill="#000">20</text>
<text transform="translate(314.30 244.99) scale(1.0 1.0)" font-size="9.8" font-weight="bold" text-anchor="end" fill="#000">30</text>
<text transform="translate(314.30 211.42) scale(1.0 1.0)" font-size="9.8" font-weight="bold" text-anchor="end" fill="#000">40</text>
<text transform="translate(426.55 369.20) scale(1.0 1.05)" font-size="11.0" font-weight="bold" text-anchor="middle" fill="#000">No. of Iteration</text>
<text transform="translate(426.55 382.50) scale(1.0 1.0)" font-size="10.5" font-weight="normal" text-anchor="middle" fill="#000" stroke="#000" stroke-width="0.35">(d)</text>
<text transform="translate(298.40 272.15) rotate(-90) scale(1.0 1.05)" font-size="11.0" font-weight="bold" text-anchor="middle" fill="#000">Fitness Value</text>
</svg></body></html>
